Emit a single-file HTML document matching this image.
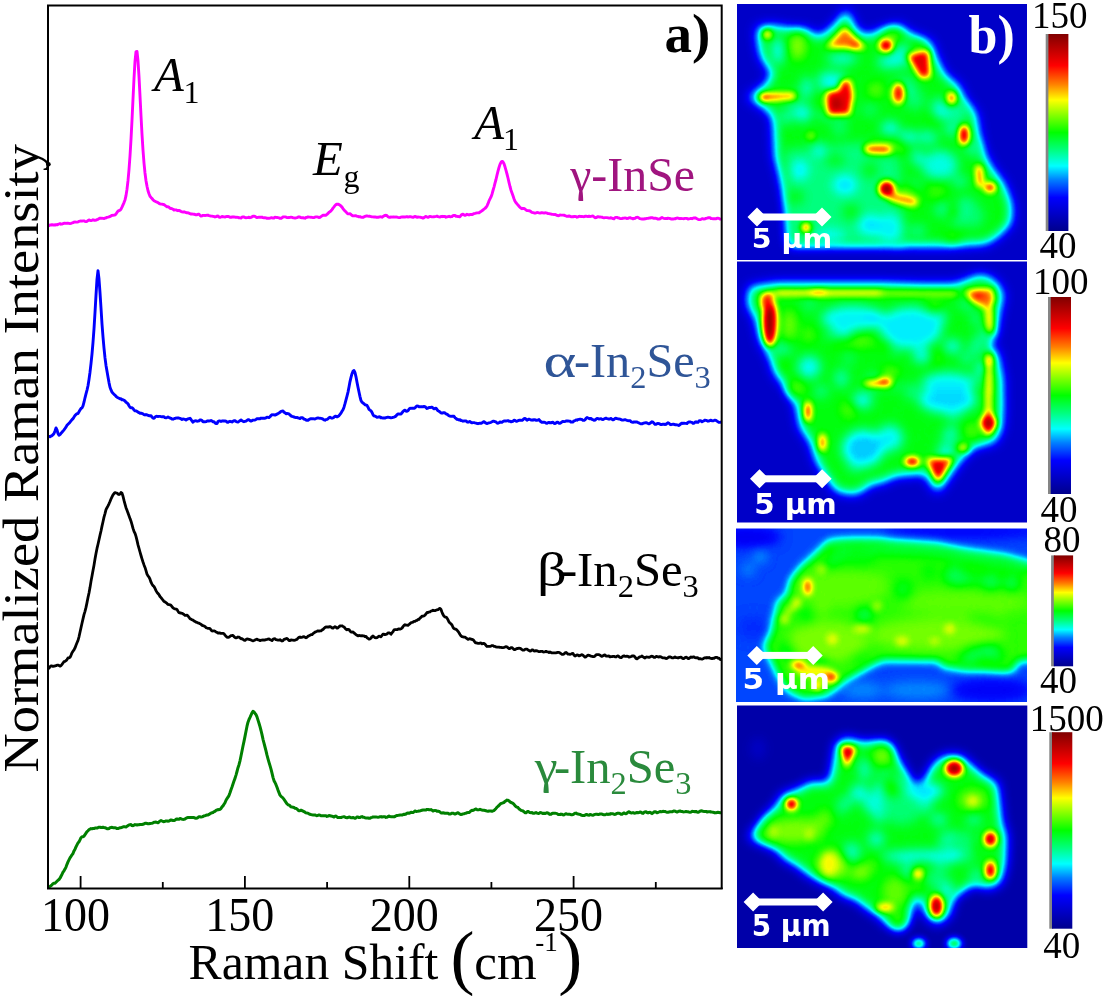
<!DOCTYPE html>
<html><head><meta charset="utf-8"><title>Raman</title>
<style>html,body{margin:0;padding:0;background:#fff;}svg{display:block}</style>
</head><body>
<svg width="1104" height="996" viewBox="0 0 1104 996">
<rect width="1104" height="996" fill="#fff"/>
<defs>
<filter id="bl0a" filterUnits="userSpaceOnUse" x="700" y="-36" width="370" height="336" color-interpolation-filters="sRGB"><feGaussianBlur stdDeviation="6.0"/></filter>
<filter id="bl0b" filterUnits="userSpaceOnUse" x="700" y="-36" width="370" height="336" color-interpolation-filters="sRGB"><feGaussianBlur stdDeviation="5.5"/></filter>
<filter id="bl0c" filterUnits="userSpaceOnUse" x="700" y="-36" width="370" height="336" color-interpolation-filters="sRGB"><feGaussianBlur stdDeviation="3.4"/></filter>
<filter id="jet0" filterUnits="userSpaceOnUse" x="700" y="-36" width="370" height="336" color-interpolation-filters="sRGB"><feGaussianBlur stdDeviation="0.8"/><feComponentTransfer><feFuncR type="table" tableValues="0.000 0.000 0.000 0.000 0.000 0.000 0.000 0.000 0.000 0.000 0.000 0.000 0.000 0.000 0.000 0.000 0.000 0.000 0.000 0.000 0.000 0.000 0.000 0.000 0.000 0.000 0.118 0.236 0.354 0.472 0.595 0.720 0.844 0.969 1.000 1.000 1.000 1.000 1.000 1.000 1.000 1.000 1.000 0.938 0.875 0.813 0.751 0.689 0.626 0.564 0.502"/><feFuncG type="table" tableValues="0.000 0.000 0.000 0.000 0.000 0.000 0.000 0.000 0.000 0.056 0.167 0.279 0.390 0.502 0.644 0.787 0.929 1.000 1.000 1.000 1.000 1.000 1.000 1.000 1.000 1.000 1.000 1.000 1.000 1.000 1.000 1.000 1.000 1.000 0.907 0.782 0.658 0.533 0.423 0.317 0.211 0.106 0.000 0.000 0.000 0.000 0.000 0.000 0.000 0.000 0.000"/><feFuncB type="table" tableValues="0.549 0.602 0.655 0.708 0.761 0.814 0.867 0.920 0.973 1.000 1.000 1.000 1.000 1.000 1.000 1.000 1.000 0.938 0.813 0.689 0.564 0.446 0.335 0.223 0.112 0.000 0.000 0.000 0.000 0.000 0.000 0.000 0.000 0.000 0.000 0.000 0.000 0.000 0.000 0.000 0.000 0.000 0.000 0.000 0.000 0.000 0.000 0.000 0.000 0.000 0.000"/></feComponentTransfer></filter>
<clipPath id="hc0"><rect x="737" y="4" width="290" height="256"/></clipPath>
<filter id="bl1a" filterUnits="userSpaceOnUse" x="700" y="221.5" width="370" height="341.0" color-interpolation-filters="sRGB"><feGaussianBlur stdDeviation="6.0"/></filter>
<filter id="bl1b" filterUnits="userSpaceOnUse" x="700" y="221.5" width="370" height="341.0" color-interpolation-filters="sRGB"><feGaussianBlur stdDeviation="5.5"/></filter>
<filter id="bl1c" filterUnits="userSpaceOnUse" x="700" y="221.5" width="370" height="341.0" color-interpolation-filters="sRGB"><feGaussianBlur stdDeviation="3.4"/></filter>
<filter id="jet1" filterUnits="userSpaceOnUse" x="700" y="221.5" width="370" height="341.0" color-interpolation-filters="sRGB"><feGaussianBlur stdDeviation="0.8"/><feComponentTransfer><feFuncR type="table" tableValues="0.000 0.000 0.000 0.000 0.000 0.000 0.000 0.000 0.000 0.000 0.000 0.000 0.000 0.000 0.000 0.000 0.000 0.000 0.000 0.000 0.000 0.000 0.000 0.000 0.000 0.000 0.118 0.236 0.354 0.472 0.595 0.720 0.844 0.969 1.000 1.000 1.000 1.000 1.000 1.000 1.000 1.000 1.000 0.938 0.875 0.813 0.751 0.689 0.626 0.564 0.502"/><feFuncG type="table" tableValues="0.000 0.000 0.000 0.000 0.000 0.000 0.000 0.000 0.000 0.056 0.167 0.279 0.390 0.502 0.644 0.787 0.929 1.000 1.000 1.000 1.000 1.000 1.000 1.000 1.000 1.000 1.000 1.000 1.000 1.000 1.000 1.000 1.000 1.000 0.907 0.782 0.658 0.533 0.423 0.317 0.211 0.106 0.000 0.000 0.000 0.000 0.000 0.000 0.000 0.000 0.000"/><feFuncB type="table" tableValues="0.549 0.602 0.655 0.708 0.761 0.814 0.867 0.920 0.973 1.000 1.000 1.000 1.000 1.000 1.000 1.000 1.000 0.938 0.813 0.689 0.564 0.446 0.335 0.223 0.112 0.000 0.000 0.000 0.000 0.000 0.000 0.000 0.000 0.000 0.000 0.000 0.000 0.000 0.000 0.000 0.000 0.000 0.000 0.000 0.000 0.000 0.000 0.000 0.000 0.000 0.000"/></feComponentTransfer></filter>
<clipPath id="hc1"><rect x="737" y="261.5" width="290" height="261.0"/></clipPath>
<filter id="bl2a" filterUnits="userSpaceOnUse" x="700" y="488.5" width="370" height="253.5" color-interpolation-filters="sRGB"><feGaussianBlur stdDeviation="4.2"/></filter>
<filter id="bl2b" filterUnits="userSpaceOnUse" x="700" y="488.5" width="370" height="253.5" color-interpolation-filters="sRGB"><feGaussianBlur stdDeviation="6"/></filter>
<filter id="bl2c" filterUnits="userSpaceOnUse" x="700" y="488.5" width="370" height="253.5" color-interpolation-filters="sRGB"><feGaussianBlur stdDeviation="3.0"/></filter>
<filter id="jet2" filterUnits="userSpaceOnUse" x="700" y="488.5" width="370" height="253.5" color-interpolation-filters="sRGB"><feGaussianBlur stdDeviation="0.8"/><feComponentTransfer><feFuncR type="table" tableValues="0.000 0.000 0.000 0.000 0.000 0.000 0.000 0.000 0.000 0.000 0.000 0.000 0.000 0.000 0.000 0.000 0.000 0.000 0.000 0.000 0.000 0.000 0.000 0.000 0.000 0.000 0.118 0.236 0.354 0.472 0.595 0.720 0.844 0.969 1.000 1.000 1.000 1.000 1.000 1.000 1.000 1.000 1.000 0.938 0.875 0.813 0.751 0.689 0.626 0.564 0.502"/><feFuncG type="table" tableValues="0.000 0.000 0.000 0.000 0.000 0.000 0.000 0.000 0.000 0.056 0.167 0.279 0.390 0.502 0.644 0.787 0.929 1.000 1.000 1.000 1.000 1.000 1.000 1.000 1.000 1.000 1.000 1.000 1.000 1.000 1.000 1.000 1.000 1.000 0.907 0.782 0.658 0.533 0.423 0.317 0.211 0.106 0.000 0.000 0.000 0.000 0.000 0.000 0.000 0.000 0.000"/><feFuncB type="table" tableValues="0.549 0.602 0.655 0.708 0.761 0.814 0.867 0.920 0.973 1.000 1.000 1.000 1.000 1.000 1.000 1.000 1.000 0.938 0.813 0.689 0.564 0.446 0.335 0.223 0.112 0.000 0.000 0.000 0.000 0.000 0.000 0.000 0.000 0.000 0.000 0.000 0.000 0.000 0.000 0.000 0.000 0.000 0.000 0.000 0.000 0.000 0.000 0.000 0.000 0.000 0.000"/></feComponentTransfer></filter>
<clipPath id="hc2"><rect x="736" y="528.5" width="291" height="173.5"/></clipPath>
<filter id="bl3a" filterUnits="userSpaceOnUse" x="700" y="665.5" width="370" height="322.5" color-interpolation-filters="sRGB"><feGaussianBlur stdDeviation="6.0"/></filter>
<filter id="bl3b" filterUnits="userSpaceOnUse" x="700" y="665.5" width="370" height="322.5" color-interpolation-filters="sRGB"><feGaussianBlur stdDeviation="5.5"/></filter>
<filter id="bl3c" filterUnits="userSpaceOnUse" x="700" y="665.5" width="370" height="322.5" color-interpolation-filters="sRGB"><feGaussianBlur stdDeviation="3.4"/></filter>
<filter id="jet3" filterUnits="userSpaceOnUse" x="700" y="665.5" width="370" height="322.5" color-interpolation-filters="sRGB"><feGaussianBlur stdDeviation="0.8"/><feComponentTransfer><feFuncR type="table" tableValues="0.000 0.000 0.000 0.000 0.000 0.000 0.000 0.000 0.000 0.000 0.000 0.000 0.000 0.000 0.000 0.000 0.000 0.000 0.000 0.000 0.000 0.000 0.000 0.000 0.000 0.000 0.118 0.236 0.354 0.472 0.595 0.720 0.844 0.969 1.000 1.000 1.000 1.000 1.000 1.000 1.000 1.000 1.000 0.938 0.875 0.813 0.751 0.689 0.626 0.564 0.502"/><feFuncG type="table" tableValues="0.000 0.000 0.000 0.000 0.000 0.000 0.000 0.000 0.000 0.056 0.167 0.279 0.390 0.502 0.644 0.787 0.929 1.000 1.000 1.000 1.000 1.000 1.000 1.000 1.000 1.000 1.000 1.000 1.000 1.000 1.000 1.000 1.000 1.000 0.907 0.782 0.658 0.533 0.423 0.317 0.211 0.106 0.000 0.000 0.000 0.000 0.000 0.000 0.000 0.000 0.000"/><feFuncB type="table" tableValues="0.549 0.602 0.655 0.708 0.761 0.814 0.867 0.920 0.973 1.000 1.000 1.000 1.000 1.000 1.000 1.000 1.000 0.938 0.813 0.689 0.564 0.446 0.335 0.223 0.112 0.000 0.000 0.000 0.000 0.000 0.000 0.000 0.000 0.000 0.000 0.000 0.000 0.000 0.000 0.000 0.000 0.000 0.000 0.000 0.000 0.000 0.000 0.000 0.000 0.000 0.000"/></feComponentTransfer></filter>
<clipPath id="hc3"><rect x="737" y="705.5" width="290.29999999999995" height="242.5"/></clipPath>
<linearGradient id="cb" x1="0" y1="0" x2="0" y2="1"><stop offset="0" stop-color="#800000"/><stop offset="0.16" stop-color="#ff0000"/><stop offset="0.255" stop-color="#ff8000"/><stop offset="0.335" stop-color="#ffff00"/><stop offset="0.415" stop-color="#80ff00"/><stop offset="0.5" stop-color="#00ff00"/><stop offset="0.59" stop-color="#00ff80"/><stop offset="0.67" stop-color="#00ffff"/><stop offset="0.74" stop-color="#0080ff"/><stop offset="0.83" stop-color="#0000ff"/><stop offset="1" stop-color="#00008c"/></linearGradient>
</defs>
<g clip-path="url(#hc0)"><g filter="url(#jet0)">
<g filter="url(#bl0a)">
<rect x="707" y="-26" width="350" height="316" fill="#171717"/>
<polygon points="756.7,27.6 769.8,25.0 789.5,28.3 807.9,29.6 818.4,37.5 831.6,27.6 842.0,15.8 846.0,8.0 851.3,18.4 856.5,30.3 867.0,35.5 882.0,29.6 899.0,24.4 908.3,32.2 930.6,41.4 937.2,59.2 945.0,75.0 958.2,84.8 966.0,101.2 975.9,113.0 979.2,134.0 983.1,150.7 991.0,166.5 1004.0,183.5 1012.0,204.5 1011.4,223.0 1000.2,235.0 987.0,244.0 947.7,246.6 912.2,246.6 882.0,244.0 789.5,244.0 788.2,223.0 787.6,209.8 785.0,194.0 780.3,175.7 775.0,157.3 773.8,131.0 772.5,115.6 763.3,107.8 754.0,101.2 747.0,97.2 755.4,92.0 767.2,82.8 772.5,72.3 765.9,65.7 760.6,56.5 758.0,43.4" fill="#7d7d7d"/>
</g>
<g filter="url(#bl0b)">
<ellipse cx="785.6" cy="116.5" rx="5.9" ry="7.0" fill="#545454"/>
<ellipse cx="839.7" cy="128.9" rx="7.7" ry="5.4" fill="#636363"/>
<ellipse cx="835.9" cy="81.8" rx="9.9" ry="9.8" fill="#545454"/>
<ellipse cx="845.1" cy="105.8" rx="6.1" ry="9.8" fill="#545454"/>
<ellipse cx="894.2" cy="223.0" rx="6.9" ry="9.3" fill="#545454"/>
<ellipse cx="916.2" cy="51.1" rx="7.0" ry="8.9" fill="#8a8a8a"/>
<ellipse cx="897.0" cy="54.0" rx="5.1" ry="8.3" fill="#545454"/>
<ellipse cx="912.3" cy="188.6" rx="8.0" ry="8.6" fill="#636363"/>
<ellipse cx="952.4" cy="129.0" rx="8.4" ry="6.7" fill="#5c5c5c"/>
<ellipse cx="927.7" cy="137.4" rx="10.0" ry="7.0" fill="#5c5c5c"/>
<ellipse cx="826.5" cy="111.7" rx="9.2" ry="9.5" fill="#696969"/>
<ellipse cx="936.4" cy="191.0" rx="9.0" ry="9.5" fill="#8a8a8a"/>
<ellipse cx="902.1" cy="86.0" rx="8.8" ry="8.5" fill="#636363"/>
<ellipse cx="904.8" cy="60.3" rx="7.6" ry="6.1" fill="#5c5c5c"/>
<ellipse cx="960.1" cy="181.5" rx="6.7" ry="5.1" fill="#5c5c5c"/>
<ellipse cx="777.2" cy="54.0" rx="5.6" ry="8.0" fill="#8a8a8a"/>
<ellipse cx="917.5" cy="231.0" rx="8.5" ry="5.8" fill="#636363"/>
<ellipse cx="958.7" cy="216.3" rx="10.0" ry="9.7" fill="#636363"/>
<ellipse cx="813.7" cy="172.0" rx="7.0" ry="7.7" fill="#8f8f8f"/>
<ellipse cx="872.6" cy="90.0" rx="7.6" ry="8.0" fill="#6e6e6e"/>
<ellipse cx="966.0" cy="205.6" rx="9.7" ry="8.0" fill="#636363"/>
<ellipse cx="816.0" cy="177.6" rx="6.1" ry="5.2" fill="#696969"/>
<ellipse cx="825.0" cy="104.1" rx="5.4" ry="6.5" fill="#8f8f8f"/>
<ellipse cx="917.3" cy="157.4" rx="5.4" ry="7.9" fill="#545454"/>
<ellipse cx="832.9" cy="220.6" rx="8.6" ry="5.9" fill="#636363"/>
<ellipse cx="910.7" cy="92.1" rx="7.8" ry="5.8" fill="#545454"/>
<ellipse cx="931.7" cy="170.8" rx="8.5" ry="7.5" fill="#636363"/>
<ellipse cx="793.2" cy="99.2" rx="6.0" ry="9.5" fill="#6e6e6e"/>
<ellipse cx="906.3" cy="145.6" rx="5.4" ry="7.3" fill="#5c5c5c"/>
<ellipse cx="944.7" cy="112.4" rx="7.9" ry="5.6" fill="#545454"/>
<ellipse cx="826.7" cy="214.0" rx="8.1" ry="5.2" fill="#8a8a8a"/>
<ellipse cx="960.0" cy="110.6" rx="9.3" ry="5.4" fill="#5c5c5c"/>
<ellipse cx="901.8" cy="48.6" rx="8.7" ry="6.9" fill="#5c5c5c"/>
<ellipse cx="967.9" cy="209.0" rx="8.4" ry="9.4" fill="#636363"/>
<ellipse cx="872.1" cy="207.1" rx="8.7" ry="8.9" fill="#696969"/>
<ellipse cx="892.2" cy="37.8" rx="9.4" ry="8.7" fill="#8f8f8f"/>
<ellipse cx="839.8" cy="121.9" rx="5.2" ry="9.5" fill="#6e6e6e"/>
<ellipse cx="972.9" cy="148.3" rx="8.0" ry="7.6" fill="#636363"/>
<ellipse cx="934.5" cy="118.5" rx="5.1" ry="6.1" fill="#8f8f8f"/>
<ellipse cx="826.5" cy="81.1" rx="8.5" ry="9.7" fill="#545454"/>
<ellipse cx="838.0" cy="190.8" rx="5.8" ry="6.0" fill="#8a8a8a"/>
<ellipse cx="907.0" cy="83.0" rx="8.3" ry="7.2" fill="#696969"/>
<ellipse cx="943.8" cy="209.5" rx="9.2" ry="7.2" fill="#636363"/>
<ellipse cx="788.1" cy="112.0" rx="6.3" ry="6.1" fill="#696969"/>
<ellipse cx="824.9" cy="223.2" rx="6.3" ry="5.1" fill="#6e6e6e"/>
<ellipse cx="817.5" cy="212.4" rx="5.3" ry="7.1" fill="#696969"/>
<ellipse cx="955.7" cy="120.7" rx="8.9" ry="7.6" fill="#696969"/>
<ellipse cx="901.1" cy="145.3" rx="9.2" ry="7.7" fill="#8f8f8f"/>
<polygon points="784.0,150.0 880.0,140.0 900.0,160.0 905.0,246.0 790.0,246.0 786.0,200.0" fill="#696969"/>
<ellipse cx="940.0" cy="165.0" rx="18.0" ry="15.0" fill="#595959"/>
<ellipse cx="908.0" cy="137.0" rx="10.0" ry="6.0" fill="#545454"/>
<ellipse cx="890.0" cy="228.0" rx="13.0" ry="14.0" fill="#545454"/>
<ellipse cx="974.0" cy="216.0" rx="10.0" ry="12.0" fill="#6b6b6b"/>
<ellipse cx="819.0" cy="149.4" rx="6.0" ry="6.0" fill="#4d4d4d"/>
<ellipse cx="800.0" cy="170.0" rx="8.0" ry="10.0" fill="#4f4f4f"/>
<ellipse cx="845.0" cy="185.0" rx="12.0" ry="10.0" fill="#4f4f4f"/>
<ellipse cx="870.0" cy="225.0" rx="12.0" ry="10.0" fill="#4f4f4f"/>
<ellipse cx="830.0" cy="235.0" rx="15.0" ry="6.0" fill="#545454"/>
<ellipse cx="796.0" cy="197.0" rx="8.0" ry="8.0" fill="#7d7d7d"/>
<ellipse cx="851.0" cy="212.0" rx="9.0" ry="8.0" fill="#7d7d7d"/>
<ellipse cx="805.0" cy="135.0" rx="8.0" ry="6.0" fill="#7d7d7d"/>
<ellipse cx="835.0" cy="160.0" rx="10.0" ry="6.0" fill="#7d7d7d"/>
<ellipse cx="870.0" cy="170.0" rx="8.0" ry="8.0" fill="#7d7d7d"/>
<ellipse cx="777.7" cy="51.0" rx="5.5" ry="14.0" fill="#4f4f4f"/>
<ellipse cx="842.0" cy="59.0" rx="15.0" ry="5.0" fill="#545454"/>
<ellipse cx="806.6" cy="88.0" rx="5.0" ry="11.0" fill="#545454"/>
<ellipse cx="802.7" cy="113.0" rx="9.0" ry="9.0" fill="#545454"/>
<ellipse cx="890.0" cy="62.0" rx="13.0" ry="6.0" fill="#545454"/>
<ellipse cx="938.5" cy="109.0" rx="6.0" ry="11.0" fill="#545454"/>
<ellipse cx="890.0" cy="128.0" rx="9.0" ry="7.0" fill="#545454"/>
<ellipse cx="915.0" cy="100.0" rx="10.0" ry="10.0" fill="#6b6b6b"/>
<ellipse cx="870.0" cy="110.0" rx="8.0" ry="6.0" fill="#6b6b6b"/>
<ellipse cx="797.5" cy="46.0" rx="8.0" ry="14.0" fill="#989898"/>
<ellipse cx="875.0" cy="90.0" rx="8.0" ry="7.0" fill="#959595"/>
<ellipse cx="953.0" cy="212.0" rx="4.0" ry="8.0" fill="#959595"/>
<ellipse cx="953.0" cy="238.0" rx="8.0" ry="3.0" fill="#959595"/>
<ellipse cx="905.0" cy="195.0" rx="14.0" ry="10.0" fill="#909090"/>
<ellipse cx="880.0" cy="148.0" rx="14.0" ry="6.0" fill="#959595"/>
</g>
<g filter="url(#bl0c)">
<ellipse cx="767.2" cy="34.2" rx="4.0" ry="4.0" fill="#cccccc"/>
<polygon points="844.7,27.0 826.0,47.5 866.0,48.5" fill="#c3c3c3"/>
<ellipse cx="856.0" cy="46.0" rx="6.0" ry="3.0" fill="#e0e0e0"/>
<line x1="763.0" y1="97.2" x2="776.0" y2="96.8" stroke="#f2f2f2" stroke-width="6.5" stroke-linecap="round"/>
<line x1="770.0" y1="97.0" x2="793.0" y2="96.0" stroke="#d1d1d1" stroke-width="6.0" stroke-linecap="round"/>
<polygon points="826.0,92.3 839.4,89.7 841.0,81.0 850.0,79.5 853.0,96.0 850.0,115.0 827.5,115.0" fill="#dedede"/>
<ellipse cx="836.0" cy="104.0" rx="5.0" ry="6.0" fill="#f2f2f2"/>
<ellipse cx="886.0" cy="45.4" rx="6.5" ry="6.0" fill="#e5e5e5"/>
<ellipse cx="886.0" cy="45.4" rx="3.0" ry="3.0" fill="#ffffff"/>
<polygon points="907.0,55.0 928.5,50.5 930.0,77.0 921.0,78.0" fill="#e0e0e0"/>
<ellipse cx="898.4" cy="93.3" rx="6.0" ry="10.5" fill="#dbdbdb"/>
<ellipse cx="951.6" cy="97.9" rx="4.0" ry="6.0" fill="#d9d9d9"/>
<ellipse cx="964.0" cy="135.0" rx="4.5" ry="10.0" fill="#f2f2f2"/>
<line x1="868.0" y1="149.0" x2="888.0" y2="149.5" stroke="#dbdbdb" stroke-width="6.5" stroke-linecap="round"/>
<ellipse cx="886.6" cy="188.8" rx="8.0" ry="8.0" fill="#ebebeb"/>
<ellipse cx="886.6" cy="188.8" rx="4.5" ry="4.5" fill="#ffffff"/>
<line x1="892.0" y1="197.0" x2="914.0" y2="202.0" stroke="#c8c8c8" stroke-width="7.0" stroke-linecap="round"/>
<line x1="979.0" y1="168.0" x2="980.0" y2="184.0" stroke="#dbdbdb" stroke-width="5.5" stroke-linecap="round"/>
<ellipse cx="990.0" cy="187.5" rx="6.0" ry="4.5" fill="#e0e0e0"/>
<ellipse cx="806.0" cy="227.5" rx="4.0" ry="4.0" fill="#f2f2f2"/>
<ellipse cx="811.0" cy="136.0" rx="3.5" ry="3.5" fill="#a4a4a4"/>
</g>
</g></g>
<g clip-path="url(#hc1)"><g filter="url(#jet1)">
<g filter="url(#bl1a)">
<rect x="707" y="231.5" width="350" height="321.0" fill="#171717"/>
<polygon points="748.8,287.0 776.4,283.0 828.9,283.0 882.0,283.0 921.4,284.3 955.5,284.3 968.7,279.1 979.2,274.5 991.0,277.8 998.9,285.0 1003.5,294.8 998.9,314.5 995.6,335.5 987.1,344.1 997.6,352.6 1002.8,380.2 1002.6,392.0 1003.1,405.1 1001.8,428.8 995.2,442.2 973.9,447.4 960.8,460.6 947.7,478.9 937.8,493.1 930.3,483.9 926.4,473.7 895.1,476.3 882.0,482.9 869.7,484.2 865.7,489.5 855.2,494.7 836.8,492.1 828.9,481.6 815.8,460.6 810.5,442.2 800.0,427.7 796.1,405.4 789.5,392.0 786.9,388.3 775.1,373.9 769.8,356.8 760.6,341.1 755.4,317.4 747.5,305.6" fill="#7d7d7d"/>
</g>
<g filter="url(#bl1b)">
<ellipse cx="896.3" cy="317.4" rx="9.6" ry="7.3" fill="#8a8a8a"/>
<ellipse cx="917.3" cy="321.7" rx="9.6" ry="7.4" fill="#696969"/>
<ellipse cx="947.9" cy="346.9" rx="5.4" ry="6.0" fill="#6e6e6e"/>
<ellipse cx="841.3" cy="378.4" rx="6.2" ry="9.0" fill="#5c5c5c"/>
<ellipse cx="867.2" cy="321.1" rx="9.1" ry="8.4" fill="#8f8f8f"/>
<ellipse cx="848.5" cy="358.0" rx="5.4" ry="8.7" fill="#6e6e6e"/>
<ellipse cx="854.6" cy="466.5" rx="7.7" ry="6.7" fill="#696969"/>
<ellipse cx="933.9" cy="354.4" rx="7.8" ry="5.8" fill="#8f8f8f"/>
<ellipse cx="963.5" cy="386.9" rx="9.3" ry="8.5" fill="#545454"/>
<ellipse cx="945.8" cy="452.7" rx="8.2" ry="8.4" fill="#545454"/>
<ellipse cx="984.1" cy="318.7" rx="7.2" ry="9.4" fill="#8a8a8a"/>
<ellipse cx="973.9" cy="348.8" rx="5.3" ry="7.8" fill="#636363"/>
<ellipse cx="831.4" cy="336.2" rx="6.3" ry="6.0" fill="#696969"/>
<ellipse cx="978.2" cy="344.8" rx="6.4" ry="9.9" fill="#636363"/>
<ellipse cx="848.7" cy="409.5" rx="7.8" ry="9.0" fill="#8f8f8f"/>
<ellipse cx="808.6" cy="334.7" rx="6.0" ry="8.0" fill="#8f8f8f"/>
<ellipse cx="781.7" cy="350.6" rx="9.5" ry="7.0" fill="#5c5c5c"/>
<ellipse cx="764.5" cy="307.1" rx="5.7" ry="5.6" fill="#636363"/>
<ellipse cx="958.2" cy="387.5" rx="7.7" ry="5.6" fill="#8f8f8f"/>
<ellipse cx="887.2" cy="344.6" rx="6.5" ry="6.3" fill="#8f8f8f"/>
<ellipse cx="973.3" cy="319.3" rx="8.8" ry="6.2" fill="#5c5c5c"/>
<ellipse cx="895.5" cy="349.9" rx="7.2" ry="5.3" fill="#6e6e6e"/>
<ellipse cx="889.0" cy="319.5" rx="8.9" ry="7.3" fill="#636363"/>
<ellipse cx="863.2" cy="334.8" rx="9.8" ry="7.4" fill="#8a8a8a"/>
<ellipse cx="953.6" cy="414.5" rx="8.5" ry="6.3" fill="#636363"/>
<ellipse cx="910.9" cy="426.7" rx="9.0" ry="6.7" fill="#8a8a8a"/>
<ellipse cx="934.4" cy="306.8" rx="9.9" ry="5.5" fill="#8f8f8f"/>
<ellipse cx="912.4" cy="391.6" rx="8.7" ry="8.3" fill="#696969"/>
<ellipse cx="947.7" cy="437.3" rx="7.2" ry="5.2" fill="#696969"/>
<ellipse cx="796.0" cy="388.2" rx="9.0" ry="8.4" fill="#8f8f8f"/>
<ellipse cx="972.8" cy="297.6" rx="9.7" ry="6.7" fill="#8a8a8a"/>
<ellipse cx="895.2" cy="380.4" rx="5.5" ry="9.9" fill="#696969"/>
<ellipse cx="862.3" cy="400.2" rx="10.0" ry="8.0" fill="#545454"/>
<ellipse cx="821.3" cy="391.4" rx="6.5" ry="6.2" fill="#636363"/>
<ellipse cx="932.6" cy="360.0" rx="6.9" ry="9.0" fill="#8a8a8a"/>
<ellipse cx="972.2" cy="430.5" rx="9.7" ry="6.7" fill="#8f8f8f"/>
<ellipse cx="977.3" cy="377.9" rx="7.0" ry="8.0" fill="#696969"/>
<ellipse cx="874.3" cy="381.7" rx="9.4" ry="8.8" fill="#696969"/>
<ellipse cx="941.1" cy="316.5" rx="5.2" ry="6.6" fill="#545454"/>
<ellipse cx="843.5" cy="330.5" rx="8.3" ry="8.2" fill="#545454"/>
<ellipse cx="922.2" cy="355.8" rx="9.5" ry="7.3" fill="#545454"/>
<ellipse cx="986.5" cy="332.6" rx="7.3" ry="6.5" fill="#636363"/>
<ellipse cx="965.6" cy="359.1" rx="5.3" ry="5.0" fill="#5c5c5c"/>
<ellipse cx="951.1" cy="434.6" rx="6.8" ry="9.1" fill="#5c5c5c"/>
<ellipse cx="966.0" cy="304.9" rx="7.6" ry="7.4" fill="#696969"/>
<ellipse cx="982.9" cy="367.1" rx="7.6" ry="5.3" fill="#545454"/>
<ellipse cx="940.0" cy="382.4" rx="8.1" ry="8.1" fill="#6e6e6e"/>
<ellipse cx="809.6" cy="304.5" rx="8.7" ry="6.9" fill="#6e6e6e"/>
<ellipse cx="852.6" cy="318.5" rx="31.5" ry="13.1" fill="#545454"/>
<ellipse cx="874.9" cy="317.2" rx="7.9" ry="5.3" fill="#4a4a4a"/>
<ellipse cx="910.9" cy="327.7" rx="31.5" ry="21.0" fill="#525252"/>
<ellipse cx="952.9" cy="346.1" rx="7.9" ry="6.6" fill="#545454"/>
<ellipse cx="809.2" cy="367.1" rx="11.2" ry="11.2" fill="#545454"/>
<ellipse cx="947.7" cy="382.8" rx="26.3" ry="10.5" fill="#545454"/>
<ellipse cx="947.7" cy="399.9" rx="28.9" ry="13.1" fill="#4f4f4f"/>
<ellipse cx="889.9" cy="438.0" rx="13.1" ry="13.1" fill="#545454"/>
<ellipse cx="863.1" cy="448.5" rx="21.0" ry="18.4" fill="#4d4d4d"/>
<ellipse cx="960.8" cy="321.1" rx="12.5" ry="11.8" fill="#7d7d7d"/>
<ellipse cx="908.3" cy="301.4" rx="10.5" ry="5.3" fill="#7d7d7d"/>
<ellipse cx="888.6" cy="364.4" rx="10.5" ry="7.9" fill="#7d7d7d"/>
<ellipse cx="925.3" cy="368.4" rx="10.5" ry="5.3" fill="#7d7d7d"/>
<ellipse cx="912.2" cy="422.2" rx="10.5" ry="13.1" fill="#7d7d7d"/>
<ellipse cx="789.5" cy="325.0" rx="6.6" ry="15.8" fill="#959595"/>
<ellipse cx="852.6" cy="343.4" rx="25.0" ry="2.9" fill="#959595"/>
<line x1="783.0" y1="351.3" x2="783.2" y2="371.0" stroke="#959595" stroke-width="2.9" stroke-linecap="round"/>
<ellipse cx="889.9" cy="374.9" rx="9.2" ry="6.6" fill="#959595"/>
</g>
<g filter="url(#bl1c)">
<ellipse cx="769.8" cy="321.1" rx="6.8" ry="25.0" fill="#ebebeb"/>
<ellipse cx="769.8" cy="321.1" rx="3.2" ry="17.1" fill="#ffffff"/>
<polygon points="761.3,294.8 771.8,291.6 775.1,306.7 760.6,308.0" fill="#d6d6d6"/>
<line x1="776.4" y1="292.9" x2="882.0" y2="292.9" stroke="#c4c4c4" stroke-width="4.7" stroke-linecap="round"/>
<ellipse cx="818.4" cy="292.5" rx="9.2" ry="2.4" fill="#e0e0e0"/>
<line x1="882.0" y1="292.9" x2="955.5" y2="293.5" stroke="#adadad" stroke-width="3.9" stroke-linecap="round"/>
<polygon points="964.7,291.2 992.3,288.5 994.3,302.1 983.1,307.3 972.0,301.1" fill="#c4c4c4"/>
<ellipse cx="977.9" cy="294.2" rx="5.9" ry="3.7" fill="#dbdbdb"/>
<line x1="988.6" y1="305.3" x2="990.0" y2="330.3" stroke="#cccccc" stroke-width="4.7" stroke-linecap="round"/>
<line x1="989.0" y1="356.6" x2="989.0" y2="392.0" stroke="#c4c4c4" stroke-width="5.0" stroke-linecap="round"/>
<ellipse cx="989.0" cy="360.5" rx="2.9" ry="5.3" fill="#e0e0e0"/>
<line x1="988.6" y1="392.0" x2="988.6" y2="411.7" stroke="#c4c4c4" stroke-width="4.7" stroke-linecap="round"/>
<polygon points="988.4,409.7 996.5,422.9 988.4,436.0 980.2,422.9" fill="#ebebeb"/>
<ellipse cx="988.4" cy="422.9" rx="2.9" ry="5.3" fill="#ffffff"/>
<ellipse cx="912.2" cy="461.6" rx="7.6" ry="4.2" fill="#f0f0f0"/>
<polygon points="926.0,459.0 953.6,457.7 937.8,483.3" fill="#d6d6d6"/>
<ellipse cx="937.8" cy="469.5" rx="2.9" ry="7.2" fill="#f0f0f0"/>
<ellipse cx="963.4" cy="447.8" rx="5.3" ry="2.6" fill="#cccccc"/>
<ellipse cx="874.9" cy="383.5" rx="11.2" ry="2.6" fill="#e6e6e6"/>
<ellipse cx="884.6" cy="382.2" rx="7.2" ry="3.7" fill="#e6e6e6"/>
<ellipse cx="807.9" cy="411.7" rx="2.6" ry="10.5" fill="#fafafa"/>
<ellipse cx="822.4" cy="442.6" rx="3.2" ry="9.2" fill="#d9d9d9"/>
</g>
</g></g>
<g clip-path="url(#hc2)"><g filter="url(#jet2)">
<g filter="url(#bl2a)">
<rect x="706" y="498.5" width="351" height="233.5" fill="#383838"/>
<polygon points="775.1,615.9 777.8,602.1 787.3,593.9 791.4,580.3 800.9,566.8 814.5,554.5 828.1,541.2 855.3,539.6 883.0,539.9 910.2,541.2 937.3,543.9 964.5,550.7 1005.3,556.2 1027.0,563.0 1059.6,566.8 1059.6,660.2 1027.0,660.5 1017.5,661.8 1013.4,671.3 1005.3,672.7 964.5,670.0 944.1,667.3 937.3,661.1 883.0,660.5 868.9,667.3 855.3,675.4 841.7,684.9 825.4,695.8 803.7,698.5 787.3,690.4 777.8,675.4 771.0,660.5 764.2,648.2 768.3,631.9 775.1,614.0" fill="#878787"/>
</g>
<g filter="url(#bl2b)">
<ellipse cx="808.0" cy="637.5" rx="7.8" ry="8.3" fill="#737373"/>
<ellipse cx="818.2" cy="586.1" rx="7.8" ry="5.2" fill="#787878"/>
<ellipse cx="920.8" cy="638.1" rx="9.4" ry="5.9" fill="#949494"/>
<ellipse cx="997.9" cy="609.8" rx="5.6" ry="9.1" fill="#949494"/>
<ellipse cx="968.0" cy="636.4" rx="9.5" ry="9.2" fill="#787878"/>
<ellipse cx="975.2" cy="623.1" rx="8.1" ry="8.2" fill="#787878"/>
<ellipse cx="962.2" cy="578.8" rx="9.1" ry="6.9" fill="#6e6e6e"/>
<ellipse cx="821.7" cy="607.5" rx="7.2" ry="7.0" fill="#949494"/>
<ellipse cx="825.5" cy="633.2" rx="6.5" ry="5.6" fill="#999999"/>
<ellipse cx="990.9" cy="582.0" rx="8.2" ry="7.4" fill="#666666"/>
<ellipse cx="1044.1" cy="610.6" rx="10.0" ry="7.6" fill="#999999"/>
<ellipse cx="825.5" cy="578.4" rx="8.0" ry="9.6" fill="#737373"/>
<ellipse cx="948.3" cy="624.4" rx="7.6" ry="7.0" fill="#666666"/>
<ellipse cx="877.8" cy="580.1" rx="9.4" ry="5.9" fill="#999999"/>
<ellipse cx="857.2" cy="570.0" rx="6.1" ry="7.1" fill="#737373"/>
<ellipse cx="806.5" cy="615.8" rx="5.1" ry="6.2" fill="#737373"/>
<ellipse cx="845.6" cy="558.0" rx="5.8" ry="7.1" fill="#5e5e5e"/>
<ellipse cx="858.1" cy="655.3" rx="8.7" ry="7.2" fill="#787878"/>
<ellipse cx="819.6" cy="663.9" rx="7.3" ry="9.2" fill="#5e5e5e"/>
<ellipse cx="954.0" cy="575.6" rx="9.7" ry="9.5" fill="#6e6e6e"/>
<ellipse cx="975.3" cy="646.0" rx="9.8" ry="9.6" fill="#5e5e5e"/>
<ellipse cx="845.9" cy="574.4" rx="7.1" ry="9.7" fill="#999999"/>
<ellipse cx="834.0" cy="564.8" rx="8.2" ry="7.4" fill="#6e6e6e"/>
<ellipse cx="1011.4" cy="583.1" rx="5.8" ry="5.9" fill="#5e5e5e"/>
<ellipse cx="997.0" cy="650.1" rx="9.7" ry="5.7" fill="#999999"/>
<ellipse cx="897.5" cy="635.2" rx="8.7" ry="5.4" fill="#787878"/>
<ellipse cx="989.1" cy="626.0" rx="9.6" ry="7.3" fill="#787878"/>
<ellipse cx="837.7" cy="561.6" rx="6.3" ry="9.9" fill="#6e6e6e"/>
<ellipse cx="929.1" cy="571.8" rx="5.2" ry="7.5" fill="#787878"/>
<ellipse cx="928.6" cy="634.7" rx="6.3" ry="5.5" fill="#787878"/>
<ellipse cx="969.2" cy="658.8" rx="9.8" ry="7.8" fill="#737373"/>
<ellipse cx="787.7" cy="649.9" rx="5.6" ry="9.1" fill="#6e6e6e"/>
<ellipse cx="993.7" cy="651.2" rx="9.9" ry="6.1" fill="#5e5e5e"/>
<ellipse cx="864.3" cy="614.6" rx="6.3" ry="7.2" fill="#666666"/>
<ellipse cx="746.6" cy="536.9" rx="34.0" ry="9.5" fill="#262626"/>
<ellipse cx="964.5" cy="531.4" rx="81.5" ry="6.8" fill="#292929"/>
<ellipse cx="760.2" cy="556.6" rx="4.8" ry="4.8" fill="#575757"/>
<ellipse cx="747.9" cy="569.5" rx="5.4" ry="4.8" fill="#4f4f4f"/>
<ellipse cx="991.7" cy="690.1" rx="40.8" ry="10.9" fill="#292929"/>
<ellipse cx="917.0" cy="690.1" rx="34.0" ry="8.2" fill="#454545"/>
<ellipse cx="862.1" cy="690.1" rx="20.4" ry="8.2" fill="#454545"/>
<ellipse cx="753.4" cy="627.6" rx="16.3" ry="10.9" fill="#333333"/>
<line x1="869.4" y1="547.7" x2="937.3" y2="549.8" stroke="#6e6e6e" stroke-width="9.5" stroke-linecap="round"/>
<line x1="937.3" y1="551.1" x2="1027.0" y2="566.8" stroke="#6e6e6e" stroke-width="8.2" stroke-linecap="round"/>
<line x1="834.9" y1="546.4" x2="883.0" y2="546.4" stroke="#737373" stroke-width="6.8" stroke-linecap="round"/>
<ellipse cx="841.7" cy="587.1" rx="47.6" ry="20.4" fill="#8f8f8f"/>
<ellipse cx="937.3" cy="634.4" rx="67.9" ry="16.3" fill="#939393"/>
<ellipse cx="828.1" cy="641.2" rx="40.8" ry="20.4" fill="#949494"/>
<ellipse cx="964.5" cy="602.1" rx="67.9" ry="13.6" fill="#8f8f8f"/>
<ellipse cx="855.3" cy="560.0" rx="20.4" ry="8.2" fill="#7d7d7d"/>
<ellipse cx="903.4" cy="589.9" rx="8.2" ry="10.9" fill="#787878"/>
<ellipse cx="998.5" cy="654.8" rx="5.4" ry="10.9" fill="#787878"/>
<ellipse cx="978.1" cy="580.3" rx="10.9" ry="6.8" fill="#787878"/>
</g>
<g filter="url(#bl2c)">
<ellipse cx="821.3" cy="569.5" rx="4.1" ry="4.1" fill="#a2a2a2"/>
<ellipse cx="796.9" cy="602.1" rx="4.1" ry="5.4" fill="#a4a4a4"/>
<ellipse cx="832.2" cy="639.1" rx="5.4" ry="5.4" fill="#aaaaaa"/>
<ellipse cx="862.1" cy="628.9" rx="9.5" ry="3.4" fill="#aaaaaa"/>
<ellipse cx="784.6" cy="619.4" rx="4.1" ry="4.1" fill="#aaaaaa"/>
<ellipse cx="902.0" cy="641.2" rx="6.8" ry="4.1" fill="#aaaaaa"/>
<ellipse cx="949.6" cy="628.9" rx="5.4" ry="4.8" fill="#aaaaaa"/>
<ellipse cx="934.6" cy="641.2" rx="5.4" ry="3.4" fill="#a4a4a4"/>
<ellipse cx="877.0" cy="606.2" rx="4.1" ry="4.1" fill="#a2a2a2"/>
<ellipse cx="807.7" cy="587.1" rx="3.3" ry="8.4" fill="#dbdbdb"/>
<line x1="798.2" y1="602.1" x2="787.3" y2="613.0" stroke="#b8b8b8" stroke-width="3.0" stroke-linecap="round"/>
<ellipse cx="798.2" cy="665.0" rx="7.5" ry="3.3" fill="#d9d9d9"/>
<ellipse cx="830.8" cy="677.2" rx="6.8" ry="4.8" fill="#dbdbdb"/>
<ellipse cx="817.2" cy="684.7" rx="4.1" ry="5.4" fill="#bfbfbf"/>
<ellipse cx="814.5" cy="671.1" rx="17.7" ry="6.1" fill="#adadad"/>
</g>
</g></g>
<g clip-path="url(#hc3)"><g filter="url(#jet3)">
<g filter="url(#bl3a)">
<rect x="707" y="675.5" width="350.29999999999995" height="302.5" fill="#0b0b0b"/>
<polygon points="756.7,828.0 763.3,816.9 776.4,805.1 781.7,794.6 800.0,788.1 810.5,781.5 828.9,782.8 832.9,763.1 835.5,743.4 846.0,736.8 861.8,741.8 882.0,740.5 882.0,739.2 891.2,743.1 899.1,759.2 907.0,772.3 914.8,788.1 920.1,789.4 928.0,772.3 934.5,761.8 945.0,755.0 960.8,755.0 972.6,765.5 983.1,774.7 997.6,782.5 1000.2,802.5 1002.8,828.0 1004.8,826.0 1007.0,839.1 1005.7,865.4 1000.5,884.1 987.1,889.3 973.9,884.1 963.4,891.9 954.2,897.2 949.6,915.6 937.2,925.3 925.3,915.6 919.4,896.9 915.5,896.9 910.2,918.2 900.4,930.4 882.0,922.1 882.0,918.2 868.3,910.3 855.2,899.8 842.1,895.9 835.5,889.3 822.4,882.7 809.2,876.2 796.1,865.7 783.0,859.1 776.4,849.9 763.3,844.6 748.2,837.8 756.7,826.0" fill="#7d7d7d"/>
<ellipse cx="758.0" cy="748.7" rx="6.6" ry="10.5" fill="#1a1a1a"/>
</g>
<g filter="url(#bl3b)">
<ellipse cx="934.3" cy="879.1" rx="8.4" ry="9.6" fill="#696969"/>
<ellipse cx="939.5" cy="863.5" rx="9.4" ry="9.4" fill="#6e6e6e"/>
<ellipse cx="883.7" cy="772.3" rx="9.3" ry="7.9" fill="#6e6e6e"/>
<ellipse cx="918.3" cy="886.2" rx="6.2" ry="6.8" fill="#8a8a8a"/>
<ellipse cx="898.4" cy="919.9" rx="7.5" ry="9.1" fill="#8a8a8a"/>
<ellipse cx="944.3" cy="839.1" rx="9.5" ry="7.6" fill="#545454"/>
<ellipse cx="931.5" cy="794.2" rx="9.2" ry="5.7" fill="#6e6e6e"/>
<ellipse cx="872.7" cy="804.2" rx="9.1" ry="8.5" fill="#545454"/>
<ellipse cx="771.5" cy="830.7" rx="9.9" ry="7.8" fill="#636363"/>
<ellipse cx="948.0" cy="874.0" rx="5.1" ry="7.4" fill="#5c5c5c"/>
<ellipse cx="908.9" cy="810.7" rx="7.2" ry="8.7" fill="#8f8f8f"/>
<ellipse cx="974.1" cy="842.0" rx="6.2" ry="6.1" fill="#8a8a8a"/>
<ellipse cx="772.7" cy="825.1" rx="9.6" ry="5.9" fill="#6e6e6e"/>
<ellipse cx="924.8" cy="803.7" rx="8.2" ry="8.7" fill="#5c5c5c"/>
<ellipse cx="966.9" cy="857.2" rx="8.1" ry="5.8" fill="#6e6e6e"/>
<ellipse cx="859.2" cy="792.8" rx="9.1" ry="8.0" fill="#545454"/>
<ellipse cx="985.7" cy="841.4" rx="6.3" ry="7.6" fill="#6e6e6e"/>
<ellipse cx="851.6" cy="851.8" rx="9.0" ry="9.0" fill="#5c5c5c"/>
<ellipse cx="784.7" cy="825.6" rx="9.5" ry="8.4" fill="#6e6e6e"/>
<ellipse cx="889.6" cy="905.6" rx="5.0" ry="7.4" fill="#8a8a8a"/>
<ellipse cx="810.8" cy="826.1" rx="6.9" ry="5.6" fill="#8f8f8f"/>
<ellipse cx="923.5" cy="862.4" rx="8.9" ry="7.8" fill="#8a8a8a"/>
<ellipse cx="990.0" cy="839.3" rx="9.0" ry="5.2" fill="#545454"/>
<ellipse cx="976.3" cy="845.6" rx="6.2" ry="7.2" fill="#8f8f8f"/>
<ellipse cx="946.9" cy="890.6" rx="6.9" ry="8.9" fill="#545454"/>
<ellipse cx="825.1" cy="816.4" rx="7.9" ry="7.3" fill="#8f8f8f"/>
<ellipse cx="901.0" cy="781.6" rx="5.5" ry="6.4" fill="#5c5c5c"/>
<ellipse cx="906.8" cy="870.4" rx="5.4" ry="7.4" fill="#5c5c5c"/>
<ellipse cx="851.7" cy="874.3" rx="6.4" ry="5.1" fill="#8f8f8f"/>
<ellipse cx="952.9" cy="837.9" rx="8.0" ry="6.6" fill="#636363"/>
<ellipse cx="840.5" cy="809.4" rx="5.6" ry="5.3" fill="#696969"/>
<ellipse cx="975.9" cy="875.4" rx="5.5" ry="7.0" fill="#5c5c5c"/>
<ellipse cx="873.1" cy="865.0" rx="6.6" ry="7.2" fill="#8a8a8a"/>
<ellipse cx="890.8" cy="789.3" rx="5.7" ry="8.8" fill="#8f8f8f"/>
<ellipse cx="864.4" cy="769.7" rx="4.6" ry="11.2" fill="#545454"/>
<ellipse cx="846.0" cy="802.5" rx="6.6" ry="4.6" fill="#595959"/>
<ellipse cx="878.8" cy="802.5" rx="7.9" ry="21.0" fill="#595959"/>
<ellipse cx="924.0" cy="790.7" rx="19.7" ry="7.9" fill="#4d4d4d"/>
<ellipse cx="938.5" cy="819.6" rx="7.9" ry="3.9" fill="#4d4d4d"/>
<ellipse cx="973.9" cy="819.6" rx="6.6" ry="3.3" fill="#4d4d4d"/>
<ellipse cx="901.7" cy="809.1" rx="19.7" ry="15.8" fill="#6b6b6b"/>
<ellipse cx="928.0" cy="856.2" rx="47.3" ry="5.3" fill="#4f4f4f"/>
<ellipse cx="954.2" cy="853.6" rx="5.3" ry="4.6" fill="#474747"/>
<ellipse cx="876.2" cy="839.1" rx="7.9" ry="7.9" fill="#595959"/>
<ellipse cx="967.4" cy="845.7" rx="7.9" ry="15.8" fill="#6b6b6b"/>
<ellipse cx="901.7" cy="837.8" rx="9.2" ry="5.3" fill="#7d7d7d"/>
<ellipse cx="934.5" cy="837.8" rx="9.2" ry="5.3" fill="#7d7d7d"/>
<ellipse cx="952.9" cy="874.6" rx="7.9" ry="6.6" fill="#7d7d7d"/>
<ellipse cx="792.2" cy="833.9" rx="32.8" ry="9.2" fill="#959595"/>
<ellipse cx="831.6" cy="864.1" rx="14.4" ry="14.4" fill="#a2a2a2"/>
<ellipse cx="861.8" cy="872.0" rx="7.9" ry="7.9" fill="#9a9a9a"/>
<ellipse cx="800.0" cy="823.5" rx="32.8" ry="5.3" fill="#959595"/>
<ellipse cx="878.8" cy="756.5" rx="5.3" ry="10.5" fill="#959595"/>
<ellipse cx="885.9" cy="756.5" rx="5.3" ry="10.5" fill="#959595"/>
<ellipse cx="972.6" cy="799.9" rx="14.4" ry="10.5" fill="#959595"/>
<ellipse cx="895.1" cy="891.7" rx="13.1" ry="15.8" fill="#909090"/>
</g>
<g filter="url(#bl3c)">
<ellipse cx="918.8" cy="943.5" rx="7.2" ry="5.5" fill="#757575"/>
<ellipse cx="954.2" cy="943.5" rx="7.9" ry="5.9" fill="#7a7a7a"/>
<ellipse cx="972.6" cy="801.2" rx="5.3" ry="4.6" fill="#aaaaaa"/>
<ellipse cx="773.8" cy="831.3" rx="3.9" ry="5.3" fill="#a2a2a2"/>
<ellipse cx="809.2" cy="833.9" rx="3.9" ry="5.3" fill="#a2a2a2"/>
<ellipse cx="828.9" cy="864.1" rx="6.6" ry="10.5" fill="#aaaaaa"/>
<polygon points="840.8,745.8 855.9,747.6 846.3,768.4" fill="#e5e5e5"/>
<ellipse cx="847.6" cy="751.9" rx="2.9" ry="3.9" fill="#ffffff"/>
<ellipse cx="791.5" cy="804.1" rx="5.8" ry="5.8" fill="#ebebeb"/>
<ellipse cx="791.5" cy="804.1" rx="2.6" ry="2.6" fill="#ffffff"/>
<ellipse cx="954.2" cy="768.4" rx="8.9" ry="7.9" fill="#ebebeb"/>
<ellipse cx="954.2" cy="768.4" rx="4.6" ry="3.9" fill="#ffffff"/>
<ellipse cx="990.4" cy="839.1" rx="6.8" ry="7.9" fill="#e5e5e5"/>
<ellipse cx="990.4" cy="839.1" rx="2.6" ry="3.4" fill="#ffffff"/>
<ellipse cx="990.4" cy="870.0" rx="5.0" ry="9.2" fill="#e0e0e0"/>
<ellipse cx="990.4" cy="871.3" rx="2.1" ry="4.2" fill="#ffffff"/>
<ellipse cx="936.5" cy="906.1" rx="6.3" ry="11.2" fill="#e5e5e5"/>
<ellipse cx="936.5" cy="906.8" rx="2.9" ry="6.0" fill="#ffffff"/>
<ellipse cx="918.1" cy="873.9" rx="4.7" ry="4.7" fill="#c6c6c6"/>
<ellipse cx="884.6" cy="907.4" rx="9.2" ry="3.4" fill="#c6c6c6"/>
</g>
</g></g>
<rect x="1045.7" y="34" width="4" height="197" fill="#858585"/>
<rect x="1048.4" y="34" width="20.0" height="197" fill="url(#cb)"/>
<text x="1059.8" y="28.2" font-size="37" text-anchor="middle" font-family="'Liberation Serif', serif">150</text>
<text x="1058" y="257.8" font-size="37" text-anchor="middle" font-family="'Liberation Serif', serif">40</text>
<rect x="1048.0" y="297" width="4" height="197" fill="#858585"/>
<rect x="1050.7" y="297" width="20.299999999999955" height="197" fill="url(#cb)"/>
<text x="1060.7" y="294.3" font-size="37" text-anchor="middle" font-family="'Liberation Serif', serif">100</text>
<text x="1059" y="521.8" font-size="37" text-anchor="middle" font-family="'Liberation Serif', serif">40</text>
<rect x="1051.1" y="555.4" width="4" height="110.89999999999998" fill="#858585"/>
<rect x="1053.8" y="555.4" width="19.299999999999955" height="110.89999999999998" fill="url(#cb)"/>
<text x="1062" y="552" font-size="37" text-anchor="middle" font-family="'Liberation Serif', serif">80</text>
<text x="1058.5" y="692.7" font-size="37" text-anchor="middle" font-family="'Liberation Serif', serif">40</text>
<rect x="1049.3" y="732.2" width="4" height="196.5" fill="#858585"/>
<rect x="1052" y="732.2" width="20.299999999999955" height="196.5" fill="url(#cb)"/>
<text x="1066.8" y="730.5" font-size="37" text-anchor="middle" font-family="'Liberation Serif', serif">1500</text>
<text x="1061.8" y="957.6" font-size="37" text-anchor="middle" font-family="'Liberation Serif', serif">40</text>
<path d="M747.5,217 l9.5,-9.5 l9.5,9.5 l-9.5,9.5 z M831.5,217 l-9.5,-9.5 l-9.5,9.5 l9.5,9.5 z" fill="#fff"/>
<rect x="757.0" y="213.5" width="65.0" height="7" fill="#fff"/>
<text transform="translate(751.7,247.6) scale(1.105,1)" font-size="25.8" font-weight="bold" fill="#fff" font-family="'DejaVu Sans', 'Liberation Sans', sans-serif" xml:space="preserve">5 µm</text>
<path d="M750,478.8 l9.5,-9.5 l9.5,9.5 l-9.5,9.5 z M831.6,478.8 l-9.5,-9.5 l-9.5,9.5 l9.5,9.5 z" fill="#fff"/>
<rect x="759.5" y="475.3" width="62.60000000000002" height="7" fill="#fff"/>
<text transform="translate(754.2,513.5) scale(1.015,1)" font-size="28.8" font-weight="bold" fill="#fff" font-family="'DejaVu Sans', 'Liberation Sans', sans-serif" xml:space="preserve">5 µm</text>
<path d="M747.3,655.4 l9.5,-9.5 l9.5,9.5 l-9.5,9.5 z M822.7,655.4 l-9.5,-9.5 l-9.5,9.5 l9.5,9.5 z" fill="#fff"/>
<rect x="756.8" y="651.9" width="56.40000000000009" height="7" fill="#fff"/>
<text transform="translate(742.6,689.4) scale(1.073,1)" font-size="28.9" font-weight="bold" fill="#fff" font-family="'DejaVu Sans', 'Liberation Sans', sans-serif" xml:space="preserve">5 µm</text>
<path d="M743.6,902 l9.5,-9.5 l9.5,9.5 l-9.5,9.5 z M832.6,902 l-9.5,-9.5 l-9.5,9.5 l9.5,9.5 z" fill="#fff"/>
<rect x="753.1" y="898.5" width="70.0" height="7" fill="#fff"/>
<text transform="translate(751.7,935.7) scale(0.91,1)" font-size="30.7" font-weight="bold" fill="#fff" font-family="'DejaVu Sans', 'Liberation Sans', sans-serif" xml:space="preserve">5 µm</text>
<text transform="translate(968.5,52.8) scale(1,1.04)" font-size="52" font-weight="bold" fill="#fff" font-family="'Liberation Serif', serif">b)</text>
<clipPath id="pc"><rect x="48.0" y="5.4" width="673.7" height="883.6"/></clipPath>
<g clip-path="url(#pc)" fill="none" stroke-linejoin="round" stroke-linecap="round">
<path d="M48.0,226.0 L49.0,225.6 L50.0,224.9 L51.0,225.1 L52.0,224.7 L53.0,225.0 L54.0,224.8 L55.0,225.1 L56.0,224.6 L57.0,224.9 L58.0,224.4 L59.0,224.0 L60.0,223.6 L61.0,224.2 L62.0,224.0 L63.0,223.7 L64.0,223.2 L65.0,223.3 L66.0,223.4 L67.0,223.3 L68.0,223.3 L69.0,223.4 L70.0,223.6 L71.0,223.4 L72.0,223.0 L73.0,222.6 L74.0,222.1 L75.0,222.0 L76.0,222.1 L77.0,222.1 L78.0,221.8 L79.0,221.4 L80.0,221.2 L81.0,221.0 L82.0,221.1 L83.0,220.9 L84.0,220.9 L85.0,221.3 L86.0,221.6 L87.0,221.3 L88.0,220.6 L89.0,220.0 L90.0,220.3 L91.0,220.6 L92.0,220.3 L93.0,219.8 L94.0,220.2 L95.0,220.3 L96.0,220.1 L97.0,219.6 L98.0,219.3 L99.0,218.6 L100.0,218.2 L101.0,218.1 L102.0,218.3 L103.0,218.4 L104.0,218.5 L105.0,218.2 L106.0,217.9 L107.0,217.3 L108.0,217.1 L109.0,216.8 L110.0,216.5 L111.0,215.9 L112.0,215.4 L113.0,215.3 L114.0,215.1 L115.0,215.1 L116.0,214.0 L117.0,212.4 L118.0,211.1 L119.0,210.6 L120.0,210.2 L121.0,209.2 L122.0,207.2 L123.0,204.9 L124.0,202.6 L125.0,199.9 L126.0,195.6 L127.0,189.2 L128.0,180.7 L129.0,169.6 L130.0,156.0 L131.0,139.4 L132.0,120.1 L133.0,99.0 L134.0,78.5 L135.0,61.4 L136.0,51.6 L137.0,51.5 L138.0,60.8 L139.0,76.7 L140.0,95.8 L141.0,115.8 L142.0,134.3 L143.0,150.2 L144.0,163.0 L145.0,173.0 L146.0,180.7 L147.0,186.3 L148.0,190.7 L149.0,193.7 L150.0,196.2 L151.0,197.4 L152.0,198.5 L153.0,199.7 L154.0,200.7 L155.0,201.2 L156.0,201.7 L157.0,202.2 L158.0,202.6 L159.0,203.4 L160.0,203.9 L161.0,204.1 L162.0,204.1 L163.0,204.5 L164.0,204.5 L165.0,205.4 L166.0,206.1 L167.0,206.8 L168.0,206.7 L169.0,207.3 L170.0,208.3 L171.0,208.5 L172.0,208.7 L173.0,209.2 L174.0,210.1 L175.0,209.9 L176.0,209.9 L177.0,210.3 L178.0,210.7 L179.0,210.4 L180.0,210.8 L181.0,211.5 L182.0,211.9 L183.0,212.0 L184.0,211.8 L185.0,212.2 L186.0,212.5 L187.0,212.9 L188.0,212.8 L189.0,213.2 L190.0,213.7 L191.0,214.0 L192.0,214.0 L193.0,214.1 L194.0,214.2 L195.0,214.5 L196.0,214.8 L197.0,214.7 L198.0,214.2 L199.0,214.3 L200.0,215.3 L201.0,216.1 L202.0,215.9 L203.0,215.4 L204.0,215.4 L205.0,215.5 L206.0,215.4 L207.0,215.3 L208.0,215.2 L209.0,215.6 L210.0,215.8 L211.0,216.1 L212.0,216.1 L213.0,216.4 L214.0,216.5 L215.0,217.0 L216.0,216.6 L217.0,216.1 L218.0,216.0 L219.0,217.1 L220.0,217.4 L221.0,217.0 L222.0,216.4 L223.0,216.8 L224.0,216.9 L225.0,217.0 L226.0,216.7 L227.0,216.5 L228.0,216.4 L229.0,216.7 L230.0,217.3 L231.0,217.3 L232.0,217.0 L233.0,216.8 L234.0,217.0 L235.0,217.2 L236.0,217.1 L237.0,217.3 L238.0,217.4 L239.0,217.8 L240.0,217.9 L241.0,218.0 L242.0,217.2 L243.0,216.9 L244.0,217.0 L245.0,217.6 L246.0,217.7 L247.0,217.6 L248.0,217.5 L249.0,217.2 L250.0,217.7 L251.0,217.4 L252.0,216.9 L253.0,216.1 L254.0,216.2 L255.0,216.4 L256.0,217.2 L257.0,217.6 L258.0,217.4 L259.0,217.2 L260.0,217.3 L261.0,217.2 L262.0,217.1 L263.0,217.6 L264.0,217.8 L265.0,217.8 L266.0,217.9 L267.0,218.3 L268.0,218.2 L269.0,218.4 L270.0,218.2 L271.0,217.7 L272.0,217.8 L273.0,218.0 L274.0,218.0 L275.0,217.3 L276.0,217.4 L277.0,217.5 L278.0,217.7 L279.0,217.9 L280.0,218.3 L281.0,218.4 L282.0,217.8 L283.0,217.0 L284.0,216.9 L285.0,216.9 L286.0,217.2 L287.0,217.5 L288.0,217.7 L289.0,217.5 L290.0,217.3 L291.0,217.1 L292.0,217.3 L293.0,217.8 L294.0,217.9 L295.0,218.1 L296.0,217.8 L297.0,217.6 L298.0,217.2 L299.0,216.8 L300.0,217.1 L301.0,217.6 L302.0,217.8 L303.0,217.7 L304.0,218.0 L305.0,218.2 L306.0,217.5 L307.0,217.3 L308.0,216.9 L309.0,217.1 L310.0,217.1 L311.0,217.3 L312.0,217.4 L313.0,217.6 L314.0,217.5 L315.0,217.2 L316.0,216.9 L317.0,216.9 L318.0,217.2 L319.0,217.5 L320.0,217.3 L321.0,216.6 L322.0,215.9 L323.0,215.2 L324.0,215.3 L325.0,215.2 L326.0,215.3 L327.0,214.3 L328.0,213.4 L329.0,212.3 L330.0,211.7 L331.0,210.8 L332.0,209.6 L333.0,208.1 L334.0,206.9 L335.0,205.5 L336.0,204.6 L337.0,204.1 L338.0,204.2 L339.0,204.6 L340.0,205.2 L341.0,206.1 L342.0,207.1 L343.0,208.6 L344.0,210.0 L345.0,211.0 L346.0,211.9 L347.0,213.1 L348.0,213.9 L349.0,213.9 L350.0,213.8 L351.0,214.5 L352.0,215.4 L353.0,215.9 L354.0,215.9 L355.0,215.8 L356.0,215.8 L357.0,216.3 L358.0,216.4 L359.0,216.8 L360.0,216.6 L361.0,217.1 L362.0,217.3 L363.0,217.4 L364.0,216.8 L365.0,216.4 L366.0,216.0 L367.0,216.0 L368.0,216.1 L369.0,216.3 L370.0,216.3 L371.0,216.6 L372.0,216.9 L373.0,216.9 L374.0,217.0 L375.0,216.9 L376.0,217.2 L377.0,217.2 L378.0,217.4 L379.0,217.0 L380.0,216.8 L381.0,216.9 L382.0,217.2 L383.0,216.6 L384.0,215.8 L385.0,215.4 L386.0,215.3 L387.0,215.7 L388.0,216.7 L389.0,217.2 L390.0,217.3 L391.0,217.0 L392.0,217.1 L393.0,217.0 L394.0,217.0 L395.0,217.1 L396.0,217.0 L397.0,217.1 L398.0,217.4 L399.0,217.6 L400.0,217.5 L401.0,217.2 L402.0,217.0 L403.0,216.8 L404.0,217.0 L405.0,217.0 L406.0,216.8 L407.0,216.7 L408.0,217.0 L409.0,216.8 L410.0,216.8 L411.0,216.7 L412.0,217.2 L413.0,217.4 L414.0,216.8 L415.0,216.5 L416.0,216.7 L417.0,217.3 L418.0,217.0 L419.0,217.1 L420.0,217.1 L421.0,217.5 L422.0,217.6 L423.0,218.1 L424.0,217.6 L425.0,216.8 L426.0,216.4 L427.0,217.0 L428.0,217.4 L429.0,216.8 L430.0,216.4 L431.0,216.6 L432.0,216.9 L433.0,216.9 L434.0,216.7 L435.0,216.6 L436.0,216.4 L437.0,216.1 L438.0,216.6 L439.0,216.9 L440.0,217.1 L441.0,216.5 L442.0,216.7 L443.0,216.3 L444.0,216.5 L445.0,216.5 L446.0,217.2 L447.0,216.9 L448.0,216.6 L449.0,216.3 L450.0,216.8 L451.0,216.7 L452.0,216.5 L453.0,215.7 L454.0,215.4 L455.0,215.5 L456.0,216.2 L457.0,216.3 L458.0,216.5 L459.0,216.7 L460.0,216.7 L461.0,215.4 L462.0,214.4 L463.0,214.2 L464.0,214.9 L465.0,215.4 L466.0,214.9 L467.0,214.3 L468.0,214.6 L469.0,215.0 L470.0,214.5 L471.0,214.4 L472.0,214.6 L473.0,214.2 L474.0,213.6 L475.0,213.4 L476.0,213.1 L477.0,212.9 L478.0,212.9 L479.0,212.8 L480.0,212.0 L481.0,211.4 L482.0,210.7 L483.0,210.0 L484.0,209.1 L485.0,208.4 L486.0,207.4 L487.0,206.0 L488.0,203.7 L489.0,200.9 L490.0,198.9 L491.0,196.9 L492.0,194.2 L493.0,190.5 L494.0,187.1 L495.0,183.2 L496.0,179.5 L497.0,175.1 L498.0,171.2 L499.0,167.5 L500.0,164.4 L501.0,162.4 L502.0,161.4 L503.0,161.9 L504.0,163.7 L505.0,166.8 L506.0,170.3 L507.0,174.0 L508.0,178.0 L509.0,182.4 L510.0,186.5 L511.0,190.2 L512.0,193.0 L513.0,195.8 L514.0,198.7 L515.0,201.2 L516.0,202.7 L517.0,203.9 L518.0,205.1 L519.0,206.2 L520.0,207.4 L521.0,208.2 L522.0,208.7 L523.0,208.3 L524.0,208.5 L525.0,209.1 L526.0,209.9 L527.0,210.5 L528.0,210.6 L529.0,210.7 L530.0,210.9 L531.0,211.8 L532.0,212.4 L533.0,212.6 L534.0,212.9 L535.0,213.2 L536.0,212.9 L537.0,212.5 L538.0,212.6 L539.0,212.9 L540.0,213.1 L541.0,212.8 L542.0,212.7 L543.0,212.9 L544.0,213.0 L545.0,212.8 L546.0,212.9 L547.0,213.2 L548.0,213.5 L549.0,213.6 L550.0,213.9 L551.0,214.0 L552.0,214.4 L553.0,214.4 L554.0,214.6 L555.0,214.5 L556.0,214.8 L557.0,215.4 L558.0,215.7 L559.0,215.6 L560.0,215.0 L561.0,215.1 L562.0,215.1 L563.0,215.1 L564.0,215.2 L565.0,215.6 L566.0,216.0 L567.0,216.4 L568.0,216.3 L569.0,216.0 L570.0,216.2 L571.0,216.7 L572.0,216.8 L573.0,216.8 L574.0,216.5 L575.0,216.4 L576.0,216.6 L577.0,217.2 L578.0,216.9 L579.0,216.4 L580.0,216.3 L581.0,216.5 L582.0,216.5 L583.0,216.6 L584.0,216.7 L585.0,216.3 L586.0,216.2 L587.0,216.4 L588.0,216.6 L589.0,216.2 L590.0,216.5 L591.0,216.4 L592.0,216.2 L593.0,216.0 L594.0,216.9 L595.0,217.7 L596.0,217.6 L597.0,217.1 L598.0,216.6 L599.0,217.0 L600.0,216.9 L601.0,217.1 L602.0,217.2 L603.0,217.6 L604.0,217.9 L605.0,217.6 L606.0,217.6 L607.0,217.6 L608.0,217.8 L609.0,218.0 L610.0,218.1 L611.0,217.7 L612.0,218.2 L613.0,218.6 L614.0,218.8 L615.0,217.6 L616.0,217.4 L617.0,217.4 L618.0,217.8 L619.0,218.0 L620.0,218.5 L621.0,218.6 L622.0,218.5 L623.0,218.2 L624.0,218.1 L625.0,218.0 L626.0,218.2 L627.0,218.5 L628.0,218.4 L629.0,217.8 L630.0,217.6 L631.0,218.1 L632.0,218.4 L633.0,218.8 L634.0,218.5 L635.0,218.4 L636.0,217.5 L637.0,217.3 L638.0,217.4 L639.0,218.1 L640.0,218.7 L641.0,218.9 L642.0,219.0 L643.0,218.9 L644.0,219.0 L645.0,218.7 L646.0,218.7 L647.0,218.4 L648.0,218.4 L649.0,218.0 L650.0,218.1 L651.0,217.7 L652.0,217.7 L653.0,218.0 L654.0,218.4 L655.0,218.2 L656.0,218.3 L657.0,218.6 L658.0,219.1 L659.0,219.0 L660.0,218.8 L661.0,218.0 L662.0,217.5 L663.0,218.0 L664.0,218.4 L665.0,218.6 L666.0,218.4 L667.0,218.6 L668.0,218.1 L669.0,218.3 L670.0,218.5 L671.0,219.0 L672.0,218.8 L673.0,219.0 L674.0,218.8 L675.0,218.9 L676.0,218.4 L677.0,218.0 L678.0,218.1 L679.0,218.5 L680.0,218.7 L681.0,218.5 L682.0,218.6 L683.0,218.6 L684.0,218.7 L685.0,218.4 L686.0,218.4 L687.0,218.5 L688.0,219.1 L689.0,218.9 L690.0,218.7 L691.0,218.4 L692.0,218.7 L693.0,218.2 L694.0,218.0 L695.0,217.8 L696.0,218.2 L697.0,218.8 L698.0,219.3 L699.0,219.6 L700.0,219.6 L701.0,219.3 L702.0,218.8 L703.0,218.8 L704.0,219.0 L705.0,218.9 L706.0,218.4 L707.0,218.2 L708.0,217.8 L709.0,217.8 L710.0,217.7 L711.0,218.5 L712.0,218.6 L713.0,218.7 L714.0,218.8 L715.0,218.8 L716.0,218.8 L717.0,218.2 L718.0,218.3 L719.0,218.4 L720.0,219.1 L721.0,219.1" stroke="#ff00ff" stroke-width="2.9"/>
<path d="M48.0,437.3 L49.0,436.5 L50.0,436.7 L51.0,436.1 L52.0,435.6 L53.0,434.7 L54.0,433.5 L55.0,430.9 L56.0,427.9 L57.0,429.9 L58.0,433.5 L59.0,435.2 L60.0,434.6 L61.0,433.3 L62.0,432.2 L63.0,431.1 L64.0,429.9 L65.0,428.5 L66.0,427.1 L67.0,425.3 L68.0,424.3 L69.0,423.3 L70.0,422.2 L71.0,420.9 L72.0,419.6 L73.0,418.6 L74.0,417.1 L75.0,415.5 L76.0,414.4 L77.0,413.7 L78.0,413.6 L79.0,411.8 L80.0,410.1 L81.0,408.4 L82.0,408.0 L83.0,405.9 L84.0,402.2 L85.0,397.8 L86.0,393.9 L87.0,390.1 L88.0,385.7 L89.0,379.4 L90.0,372.2 L91.0,363.6 L92.0,354.0 L93.0,342.3 L94.0,328.9 L95.0,312.5 L96.0,295.2 L97.0,279.1 L98.0,270.6 L99.0,279.0 L100.0,292.6 L101.0,308.0 L102.0,324.0 L103.0,336.9 L104.0,348.2 L105.0,357.9 L106.0,365.4 L107.0,371.3 L108.0,377.0 L109.0,382.6 L110.0,387.3 L111.0,389.9 L112.0,392.1 L113.0,393.3 L114.0,394.3 L115.0,395.1 L116.0,396.3 L117.0,397.2 L118.0,397.7 L119.0,398.2 L120.0,398.8 L121.0,398.8 L122.0,399.9 L123.0,399.8 L124.0,400.3 L125.0,401.0 L126.0,402.2 L127.0,402.9 L128.0,403.8 L129.0,405.7 L130.0,407.2 L131.0,407.9 L132.0,407.8 L133.0,408.4 L134.0,410.0 L135.0,410.9 L136.0,410.9 L137.0,411.3 L138.0,412.1 L139.0,412.6 L140.0,413.3 L141.0,413.1 L142.0,413.5 L143.0,413.8 L144.0,414.6 L145.0,415.0 L146.0,414.5 L147.0,414.9 L148.0,415.3 L149.0,415.8 L150.0,415.6 L151.0,415.7 L152.0,417.1 L153.0,418.0 L154.0,418.3 L155.0,417.2 L156.0,416.4 L157.0,416.3 L158.0,416.5 L159.0,416.4 L160.0,416.4 L161.0,416.6 L162.0,416.8 L163.0,416.8 L164.0,416.7 L165.0,417.7 L166.0,417.9 L167.0,417.5 L168.0,416.9 L169.0,417.5 L170.0,418.0 L171.0,418.3 L172.0,419.0 L173.0,419.2 L174.0,418.7 L175.0,418.5 L176.0,418.0 L177.0,418.1 L178.0,417.8 L179.0,418.1 L180.0,418.4 L181.0,418.8 L182.0,419.5 L183.0,419.0 L184.0,419.2 L185.0,419.4 L186.0,420.0 L187.0,419.3 L188.0,418.9 L189.0,418.6 L190.0,418.3 L191.0,419.5 L192.0,421.1 L193.0,422.2 L194.0,421.2 L195.0,420.9 L196.0,420.8 L197.0,421.2 L198.0,421.1 L199.0,420.8 L200.0,419.9 L201.0,420.0 L202.0,420.6 L203.0,421.7 L204.0,421.6 L205.0,421.9 L206.0,421.7 L207.0,421.1 L208.0,420.8 L209.0,421.0 L210.0,420.9 L211.0,420.5 L212.0,421.1 L213.0,421.7 L214.0,421.7 L215.0,422.9 L216.0,423.5 L217.0,423.5 L218.0,421.5 L219.0,420.9 L220.0,421.0 L221.0,421.5 L222.0,421.0 L223.0,420.8 L224.0,421.0 L225.0,421.0 L226.0,421.2 L227.0,422.0 L228.0,422.3 L229.0,421.6 L230.0,421.3 L231.0,421.6 L232.0,422.0 L233.0,421.3 L234.0,420.6 L235.0,420.7 L236.0,421.5 L237.0,421.9 L238.0,422.1 L239.0,421.4 L240.0,420.6 L241.0,419.9 L242.0,420.8 L243.0,421.3 L244.0,421.7 L245.0,421.4 L246.0,421.2 L247.0,420.4 L248.0,419.7 L249.0,419.8 L250.0,420.6 L251.0,421.1 L252.0,420.7 L253.0,420.1 L254.0,420.1 L255.0,420.0 L256.0,419.5 L257.0,418.6 L258.0,418.7 L259.0,418.8 L260.0,418.7 L261.0,418.1 L262.0,418.2 L263.0,418.3 L264.0,418.3 L265.0,418.2 L266.0,417.8 L267.0,417.1 L268.0,417.3 L269.0,417.5 L270.0,416.7 L271.0,415.5 L272.0,414.8 L273.0,414.9 L274.0,414.8 L275.0,415.1 L276.0,414.6 L277.0,414.1 L278.0,413.6 L279.0,413.0 L280.0,412.3 L281.0,411.4 L282.0,411.2 L283.0,411.0 L284.0,412.2 L285.0,412.8 L286.0,413.8 L287.0,413.5 L288.0,413.7 L289.0,414.0 L290.0,414.9 L291.0,415.9 L292.0,416.4 L293.0,416.7 L294.0,417.0 L295.0,417.3 L296.0,417.6 L297.0,417.5 L298.0,417.8 L299.0,418.2 L300.0,418.5 L301.0,417.7 L302.0,417.6 L303.0,418.1 L304.0,419.1 L305.0,419.3 L306.0,420.0 L307.0,420.3 L308.0,420.3 L309.0,419.5 L310.0,419.0 L311.0,418.7 L312.0,418.6 L313.0,418.9 L314.0,418.8 L315.0,419.0 L316.0,418.5 L317.0,418.1 L318.0,417.9 L319.0,418.1 L320.0,418.3 L321.0,418.4 L322.0,418.6 L323.0,419.1 L324.0,419.9 L325.0,420.2 L326.0,419.6 L327.0,419.4 L328.0,418.8 L329.0,417.8 L330.0,417.2 L331.0,417.8 L332.0,418.2 L333.0,417.9 L334.0,417.2 L335.0,416.3 L336.0,416.3 L337.0,416.9 L338.0,416.4 L339.0,415.7 L340.0,414.4 L341.0,413.1 L342.0,411.3 L343.0,409.7 L344.0,407.2 L345.0,403.7 L346.0,399.8 L347.0,396.1 L348.0,392.1 L349.0,387.0 L350.0,381.6 L351.0,377.3 L352.0,373.7 L353.0,371.2 L354.0,370.5 L355.0,372.7 L356.0,376.8 L357.0,382.3 L358.0,387.2 L359.0,392.0 L360.0,396.6 L361.0,400.6 L362.0,402.2 L363.0,402.9 L364.0,403.8 L365.0,404.8 L366.0,405.0 L367.0,405.4 L368.0,407.2 L369.0,409.4 L370.0,410.2 L371.0,410.7 L372.0,412.4 L373.0,414.8 L374.0,415.9 L375.0,416.2 L376.0,416.6 L377.0,417.3 L378.0,417.1 L379.0,416.8 L380.0,416.9 L381.0,417.9 L382.0,417.8 L383.0,418.0 L384.0,417.8 L385.0,418.0 L386.0,417.7 L387.0,417.4 L388.0,417.1 L389.0,417.3 L390.0,417.5 L391.0,417.9 L392.0,417.7 L393.0,417.3 L394.0,417.1 L395.0,416.7 L396.0,416.0 L397.0,414.7 L398.0,414.0 L399.0,414.0 L400.0,414.1 L401.0,414.0 L402.0,412.8 L403.0,411.5 L404.0,410.6 L405.0,410.2 L406.0,411.0 L407.0,411.3 L408.0,410.8 L409.0,409.2 L410.0,408.3 L411.0,408.4 L412.0,408.2 L413.0,408.2 L414.0,408.3 L415.0,407.9 L416.0,406.7 L417.0,406.0 L418.0,406.1 L419.0,406.7 L420.0,406.6 L421.0,406.8 L422.0,406.7 L423.0,406.8 L424.0,406.4 L425.0,406.6 L426.0,407.7 L427.0,408.5 L428.0,408.1 L429.0,407.5 L430.0,407.5 L431.0,407.3 L432.0,407.2 L433.0,408.1 L434.0,408.8 L435.0,408.4 L436.0,408.2 L437.0,409.5 L438.0,410.8 L439.0,411.3 L440.0,412.0 L441.0,412.9 L442.0,413.2 L443.0,412.8 L444.0,412.7 L445.0,413.0 L446.0,413.9 L447.0,414.2 L448.0,415.1 L449.0,415.7 L450.0,416.2 L451.0,416.4 L452.0,416.3 L453.0,416.2 L454.0,416.3 L455.0,417.7 L456.0,418.4 L457.0,419.4 L458.0,419.5 L459.0,420.0 L460.0,419.7 L461.0,420.5 L462.0,420.7 L463.0,421.2 L464.0,421.0 L465.0,420.9 L466.0,420.9 L467.0,421.8 L468.0,422.2 L469.0,421.8 L470.0,421.5 L471.0,422.4 L472.0,422.8 L473.0,422.6 L474.0,422.6 L475.0,422.9 L476.0,423.1 L477.0,423.5 L478.0,423.7 L479.0,423.4 L480.0,423.2 L481.0,423.3 L482.0,422.9 L483.0,422.1 L484.0,421.7 L485.0,422.6 L486.0,423.2 L487.0,423.5 L488.0,423.2 L489.0,422.8 L490.0,422.6 L491.0,422.3 L492.0,421.8 L493.0,421.3 L494.0,421.2 L495.0,421.7 L496.0,421.9 L497.0,423.1 L498.0,423.2 L499.0,422.7 L500.0,422.0 L501.0,422.3 L502.0,422.2 L503.0,421.6 L504.0,421.0 L505.0,421.0 L506.0,421.0 L507.0,420.9 L508.0,420.6 L509.0,421.2 L510.0,421.1 L511.0,421.8 L512.0,421.5 L513.0,421.3 L514.0,420.1 L515.0,420.4 L516.0,421.2 L517.0,421.2 L518.0,420.7 L519.0,420.3 L520.0,420.3 L521.0,420.2 L522.0,420.4 L523.0,419.8 L524.0,418.6 L525.0,418.4 L526.0,419.2 L527.0,420.2 L528.0,419.6 L529.0,419.1 L530.0,419.5 L531.0,420.0 L532.0,420.2 L533.0,419.7 L534.0,420.0 L535.0,419.6 L536.0,420.3 L537.0,420.2 L538.0,420.1 L539.0,419.6 L540.0,420.9 L541.0,421.8 L542.0,422.4 L543.0,422.2 L544.0,422.2 L545.0,422.4 L546.0,423.1 L547.0,423.3 L548.0,422.7 L549.0,422.4 L550.0,422.8 L551.0,422.9 L552.0,422.4 L553.0,422.2 L554.0,423.3 L555.0,423.6 L556.0,423.0 L557.0,422.2 L558.0,422.2 L559.0,423.2 L560.0,423.3 L561.0,422.7 L562.0,421.8 L563.0,421.4 L564.0,421.6 L565.0,421.5 L566.0,421.0 L567.0,421.0 L568.0,421.0 L569.0,421.1 L570.0,421.1 L571.0,422.1 L572.0,422.1 L573.0,422.0 L574.0,420.8 L575.0,420.6 L576.0,419.9 L577.0,420.2 L578.0,419.6 L579.0,419.4 L580.0,419.2 L581.0,419.3 L582.0,419.5 L583.0,420.4 L584.0,420.4 L585.0,419.8 L586.0,418.4 L587.0,417.5 L588.0,418.0 L589.0,418.5 L590.0,418.8 L591.0,418.4 L592.0,419.3 L593.0,419.7 L594.0,420.3 L595.0,420.1 L596.0,419.1 L597.0,418.4 L598.0,418.7 L599.0,419.0 L600.0,418.8 L601.0,418.6 L602.0,419.4 L603.0,419.6 L604.0,419.0 L605.0,418.5 L606.0,418.2 L607.0,418.6 L608.0,418.9 L609.0,419.2 L610.0,418.8 L611.0,418.5 L612.0,419.3 L613.0,419.9 L614.0,419.5 L615.0,418.4 L616.0,418.2 L617.0,418.7 L618.0,418.9 L619.0,419.0 L620.0,419.1 L621.0,419.7 L622.0,420.0 L623.0,420.1 L624.0,419.8 L625.0,419.6 L626.0,420.0 L627.0,420.4 L628.0,420.7 L629.0,420.6 L630.0,420.6 L631.0,421.7 L632.0,422.1 L633.0,422.3 L634.0,421.9 L635.0,422.0 L636.0,422.0 L637.0,422.0 L638.0,422.6 L639.0,422.9 L640.0,423.5 L641.0,423.9 L642.0,423.8 L643.0,423.4 L644.0,423.0 L645.0,422.9 L646.0,422.6 L647.0,422.9 L648.0,423.5 L649.0,423.9 L650.0,423.2 L651.0,422.5 L652.0,421.8 L653.0,422.2 L654.0,423.2 L655.0,424.4 L656.0,424.4 L657.0,423.7 L658.0,423.4 L659.0,423.6 L660.0,424.2 L661.0,424.6 L662.0,424.5 L663.0,424.1 L664.0,424.2 L665.0,424.5 L666.0,424.4 L667.0,423.4 L668.0,422.8 L669.0,423.3 L670.0,424.3 L671.0,424.7 L672.0,424.4 L673.0,424.3 L674.0,424.3 L675.0,424.7 L676.0,424.8 L677.0,424.9 L678.0,425.2 L679.0,425.5 L680.0,424.6 L681.0,423.6 L682.0,423.2 L683.0,423.5 L684.0,423.1 L685.0,423.4 L686.0,423.4 L687.0,423.5 L688.0,422.3 L689.0,422.0 L690.0,421.9 L691.0,422.2 L692.0,422.4 L693.0,423.3 L694.0,423.3 L695.0,422.2 L696.0,421.8 L697.0,422.4 L698.0,422.3 L699.0,421.0 L700.0,420.7 L701.0,421.0 L702.0,421.8 L703.0,421.3 L704.0,420.7 L705.0,420.1 L706.0,420.3 L707.0,420.7 L708.0,421.2 L709.0,421.0 L710.0,420.5 L711.0,420.2 L712.0,420.8 L713.0,420.9 L714.0,420.5 L715.0,420.1 L716.0,420.3 L717.0,421.1 L718.0,421.8 L719.0,422.4 L720.0,422.4 L721.0,422.0" stroke="#0000ff" stroke-width="2.9"/>
<path d="M48.0,668.3 L49.0,668.1 L50.0,666.6 L51.0,666.0 L52.0,665.9 L53.0,666.4 L54.0,666.1 L55.0,666.0 L56.0,665.7 L57.0,665.1 L58.0,665.1 L59.0,665.5 L60.0,666.2 L61.0,665.6 L62.0,664.4 L63.0,663.0 L64.0,661.7 L65.0,661.4 L66.0,660.7 L67.0,659.6 L68.0,658.0 L69.0,657.9 L70.0,657.3 L71.0,655.3 L72.0,652.7 L73.0,651.2 L74.0,649.9 L75.0,647.9 L76.0,645.2 L77.0,642.8 L78.0,640.5 L79.0,636.8 L80.0,632.3 L81.0,627.7 L82.0,623.3 L83.0,618.9 L84.0,614.6 L85.0,611.3 L86.0,607.4 L87.0,602.6 L88.0,597.6 L89.0,593.0 L90.0,587.6 L91.0,581.4 L92.0,575.9 L93.0,570.6 L94.0,565.2 L95.0,559.1 L96.0,553.5 L97.0,548.4 L98.0,544.2 L99.0,539.7 L100.0,535.2 L101.0,531.0 L102.0,526.1 L103.0,521.7 L104.0,517.1 L105.0,513.6 L106.0,509.7 L107.0,507.7 L108.0,505.9 L109.0,503.8 L110.0,501.5 L111.0,499.0 L112.0,496.9 L113.0,494.9 L114.0,493.6 L115.0,492.6 L116.0,492.9 L117.0,493.1 L118.0,494.1 L119.0,494.5 L120.0,494.0 L121.0,492.5 L122.0,493.1 L123.0,496.2 L124.0,500.4 L125.0,504.2 L126.0,507.7 L127.0,510.3 L128.0,513.1 L129.0,515.7 L130.0,518.6 L131.0,521.2 L132.0,524.6 L133.0,528.4 L134.0,531.3 L135.0,533.3 L136.0,536.4 L137.0,540.4 L138.0,544.9 L139.0,548.3 L140.0,552.0 L141.0,555.5 L142.0,558.8 L143.0,562.0 L144.0,564.9 L145.0,567.4 L146.0,570.7 L147.0,574.1 L148.0,575.9 L149.0,577.1 L150.0,579.2 L151.0,582.2 L152.0,584.2 L153.0,585.6 L154.0,586.5 L155.0,588.4 L156.0,590.6 L157.0,592.3 L158.0,593.5 L159.0,594.7 L160.0,596.5 L161.0,597.6 L162.0,598.9 L163.0,600.1 L164.0,601.5 L165.0,601.9 L166.0,602.7 L167.0,603.4 L168.0,604.4 L169.0,604.6 L170.0,604.8 L171.0,605.3 L172.0,606.6 L173.0,607.9 L174.0,608.5 L175.0,608.9 L176.0,609.1 L177.0,609.6 L178.0,611.2 L179.0,612.7 L180.0,613.0 L181.0,613.0 L182.0,613.3 L183.0,613.8 L184.0,614.5 L185.0,615.3 L186.0,615.3 L187.0,615.1 L188.0,616.0 L189.0,617.3 L190.0,618.7 L191.0,619.1 L192.0,619.7 L193.0,620.1 L194.0,620.9 L195.0,621.4 L196.0,622.2 L197.0,622.4 L198.0,623.0 L199.0,623.2 L200.0,623.8 L201.0,624.2 L202.0,625.3 L203.0,625.6 L204.0,626.0 L205.0,626.5 L206.0,627.6 L207.0,628.0 L208.0,628.3 L209.0,628.4 L210.0,628.7 L211.0,629.9 L212.0,630.9 L213.0,631.0 L214.0,630.8 L215.0,631.2 L216.0,632.0 L217.0,632.4 L218.0,633.0 L219.0,633.0 L220.0,632.9 L221.0,633.4 L222.0,633.4 L223.0,633.3 L224.0,633.7 L225.0,635.1 L226.0,636.2 L227.0,637.1 L228.0,637.4 L229.0,637.1 L230.0,636.4 L231.0,635.7 L232.0,635.5 L233.0,635.5 L234.0,636.6 L235.0,637.5 L236.0,637.9 L237.0,637.6 L238.0,637.0 L239.0,637.2 L240.0,637.9 L241.0,638.8 L242.0,638.7 L243.0,639.4 L244.0,640.1 L245.0,640.4 L246.0,639.4 L247.0,638.9 L248.0,639.1 L249.0,639.4 L250.0,639.7 L251.0,640.0 L252.0,640.5 L253.0,640.8 L254.0,640.5 L255.0,640.0 L256.0,639.5 L257.0,639.2 L258.0,639.8 L259.0,640.0 L260.0,640.7 L261.0,640.2 L262.0,640.1 L263.0,639.9 L264.0,640.1 L265.0,640.0 L266.0,639.6 L267.0,639.4 L268.0,639.1 L269.0,639.0 L270.0,639.7 L271.0,640.0 L272.0,640.6 L273.0,639.3 L274.0,638.8 L275.0,638.7 L276.0,639.7 L277.0,639.9 L278.0,640.1 L279.0,640.1 L280.0,639.7 L281.0,640.5 L282.0,641.0 L283.0,640.6 L284.0,639.4 L285.0,639.2 L286.0,638.6 L287.0,638.5 L288.0,639.4 L289.0,640.5 L290.0,640.5 L291.0,639.9 L292.0,640.2 L293.0,640.2 L294.0,640.3 L295.0,640.1 L296.0,639.7 L297.0,639.4 L298.0,638.2 L299.0,637.4 L300.0,637.0 L301.0,637.5 L302.0,637.3 L303.0,636.9 L304.0,636.6 L305.0,637.3 L306.0,637.8 L307.0,637.3 L308.0,636.3 L309.0,635.7 L310.0,635.3 L311.0,634.6 L312.0,634.7 L313.0,633.6 L314.0,632.9 L315.0,632.1 L316.0,631.7 L317.0,631.3 L318.0,630.8 L319.0,631.2 L320.0,630.9 L321.0,630.9 L322.0,629.9 L323.0,629.5 L324.0,628.3 L325.0,627.5 L326.0,626.8 L327.0,627.2 L328.0,626.9 L329.0,627.1 L330.0,626.6 L331.0,627.0 L332.0,627.9 L333.0,628.2 L334.0,627.3 L335.0,626.6 L336.0,627.2 L337.0,628.1 L338.0,627.8 L339.0,626.8 L340.0,625.9 L341.0,626.0 L342.0,625.8 L343.0,626.4 L344.0,626.9 L345.0,628.2 L346.0,629.2 L347.0,629.8 L348.0,629.3 L349.0,629.5 L350.0,631.1 L351.0,632.1 L352.0,632.1 L353.0,632.0 L354.0,633.0 L355.0,633.7 L356.0,634.6 L357.0,635.3 L358.0,635.9 L359.0,635.5 L360.0,635.6 L361.0,635.8 L362.0,635.6 L363.0,635.8 L364.0,635.8 L365.0,636.6 L366.0,636.4 L367.0,637.8 L368.0,638.4 L369.0,639.1 L370.0,638.8 L371.0,638.1 L372.0,636.6 L373.0,636.0 L374.0,636.9 L375.0,637.7 L376.0,637.8 L377.0,637.7 L378.0,636.9 L379.0,636.2 L380.0,636.5 L381.0,636.8 L382.0,635.4 L383.0,634.2 L384.0,634.1 L385.0,634.7 L386.0,634.3 L387.0,634.0 L388.0,632.9 L389.0,632.8 L390.0,633.3 L391.0,634.2 L392.0,632.9 L393.0,631.7 L394.0,629.9 L395.0,629.7 L396.0,629.5 L397.0,629.7 L398.0,629.2 L399.0,628.9 L400.0,629.1 L401.0,628.7 L402.0,628.1 L403.0,626.6 L404.0,625.4 L405.0,624.7 L406.0,625.1 L407.0,625.1 L408.0,625.3 L409.0,624.5 L410.0,623.6 L411.0,622.7 L412.0,622.5 L413.0,622.1 L414.0,621.4 L415.0,621.3 L416.0,620.6 L417.0,620.4 L418.0,619.5 L419.0,619.4 L420.0,618.0 L421.0,617.3 L422.0,616.2 L423.0,616.1 L424.0,615.8 L425.0,615.1 L426.0,613.8 L427.0,612.5 L428.0,612.5 L429.0,612.0 L430.0,611.8 L431.0,611.0 L432.0,610.8 L433.0,610.2 L434.0,610.6 L435.0,610.6 L436.0,610.2 L437.0,609.8 L438.0,609.7 L439.0,608.7 L440.0,608.3 L441.0,609.5 L442.0,612.2 L443.0,614.6 L444.0,616.2 L445.0,617.0 L446.0,617.1 L447.0,618.1 L448.0,619.8 L449.0,622.0 L450.0,623.0 L451.0,623.8 L452.0,625.0 L453.0,627.3 L454.0,628.6 L455.0,629.1 L456.0,629.2 L457.0,630.1 L458.0,631.3 L459.0,632.8 L460.0,634.5 L461.0,635.9 L462.0,636.7 L463.0,636.9 L464.0,637.1 L465.0,637.2 L466.0,637.9 L467.0,638.7 L468.0,639.4 L469.0,639.0 L470.0,638.7 L471.0,639.1 L472.0,639.5 L473.0,639.6 L474.0,640.7 L475.0,642.4 L476.0,642.9 L477.0,643.0 L478.0,643.3 L479.0,643.4 L480.0,643.1 L481.0,643.0 L482.0,643.8 L483.0,643.5 L484.0,643.4 L485.0,644.1 L486.0,645.5 L487.0,646.5 L488.0,646.3 L489.0,646.4 L490.0,646.4 L491.0,646.1 L492.0,645.6 L493.0,645.7 L494.0,646.4 L495.0,646.3 L496.0,647.0 L497.0,647.2 L498.0,647.2 L499.0,647.1 L500.0,647.4 L501.0,647.4 L502.0,647.6 L503.0,647.7 L504.0,647.5 L505.0,647.0 L506.0,646.7 L507.0,646.8 L508.0,647.9 L509.0,648.5 L510.0,648.5 L511.0,647.6 L512.0,647.7 L513.0,648.5 L514.0,649.5 L515.0,649.6 L516.0,649.0 L517.0,648.5 L518.0,648.5 L519.0,648.2 L520.0,648.3 L521.0,648.8 L522.0,649.6 L523.0,650.2 L524.0,650.1 L525.0,649.4 L526.0,649.2 L527.0,649.2 L528.0,650.0 L529.0,650.5 L530.0,651.1 L531.0,650.8 L532.0,649.9 L533.0,649.9 L534.0,650.9 L535.0,651.1 L536.0,650.6 L537.0,650.9 L538.0,651.3 L539.0,651.7 L540.0,651.5 L541.0,651.4 L542.0,651.3 L543.0,651.9 L544.0,652.0 L545.0,651.8 L546.0,651.3 L547.0,651.9 L548.0,651.9 L549.0,652.5 L550.0,651.9 L551.0,652.4 L552.0,652.9 L553.0,652.9 L554.0,652.9 L555.0,652.8 L556.0,652.8 L557.0,652.5 L558.0,652.4 L559.0,652.4 L560.0,653.0 L561.0,653.6 L562.0,654.3 L563.0,654.3 L564.0,654.0 L565.0,652.9 L566.0,652.5 L567.0,653.2 L568.0,654.1 L569.0,654.1 L570.0,654.3 L571.0,654.0 L572.0,653.6 L573.0,653.4 L574.0,655.1 L575.0,656.0 L576.0,655.5 L577.0,654.8 L578.0,655.1 L579.0,655.9 L580.0,655.6 L581.0,655.0 L582.0,654.7 L583.0,655.2 L584.0,656.2 L585.0,657.1 L586.0,656.8 L587.0,655.8 L588.0,655.1 L589.0,655.4 L590.0,655.7 L591.0,656.1 L592.0,656.3 L593.0,656.7 L594.0,656.6 L595.0,656.0 L596.0,654.9 L597.0,654.6 L598.0,654.7 L599.0,654.6 L600.0,655.2 L601.0,655.9 L602.0,656.4 L603.0,655.8 L604.0,655.2 L605.0,654.9 L606.0,656.0 L607.0,656.1 L608.0,656.1 L609.0,655.9 L610.0,656.9 L611.0,656.6 L612.0,656.6 L613.0,656.3 L614.0,656.4 L615.0,656.8 L616.0,657.0 L617.0,656.2 L618.0,655.8 L619.0,656.6 L620.0,657.5 L621.0,657.7 L622.0,657.1 L623.0,656.0 L624.0,655.8 L625.0,656.4 L626.0,656.4 L627.0,656.2 L628.0,656.3 L629.0,657.1 L630.0,656.8 L631.0,656.6 L632.0,656.0 L633.0,656.0 L634.0,655.9 L635.0,656.9 L636.0,658.5 L637.0,658.8 L638.0,658.1 L639.0,657.3 L640.0,656.8 L641.0,656.6 L642.0,656.0 L643.0,656.9 L644.0,657.5 L645.0,658.1 L646.0,657.1 L647.0,657.0 L648.0,657.2 L649.0,657.4 L650.0,657.0 L651.0,656.3 L652.0,656.2 L653.0,656.6 L654.0,657.4 L655.0,657.3 L656.0,656.5 L657.0,656.5 L658.0,656.8 L659.0,657.1 L660.0,656.6 L661.0,656.8 L662.0,657.5 L663.0,657.9 L664.0,657.9 L665.0,658.0 L666.0,658.5 L667.0,658.4 L668.0,657.7 L669.0,657.0 L670.0,656.9 L671.0,657.3 L672.0,657.9 L673.0,657.9 L674.0,657.6 L675.0,657.0 L676.0,657.6 L677.0,657.7 L678.0,658.0 L679.0,657.5 L680.0,657.4 L681.0,657.1 L682.0,658.0 L683.0,658.6 L684.0,658.6 L685.0,657.6 L686.0,657.2 L687.0,657.5 L688.0,658.6 L689.0,658.5 L690.0,657.6 L691.0,657.0 L692.0,657.4 L693.0,657.0 L694.0,657.0 L695.0,657.7 L696.0,657.8 L697.0,657.6 L698.0,657.9 L699.0,658.9 L700.0,658.6 L701.0,658.9 L702.0,659.1 L703.0,658.7 L704.0,658.1 L705.0,657.7 L706.0,658.0 L707.0,657.4 L708.0,657.9 L709.0,657.5 L710.0,658.2 L711.0,658.4 L712.0,658.7 L713.0,658.2 L714.0,658.3 L715.0,657.6 L716.0,657.3 L717.0,657.3 L718.0,658.1 L719.0,658.2 L720.0,659.4 L721.0,659.5" stroke="#000000" stroke-width="2.8"/>
<path d="M48.0,887.5 L49.0,886.8 L50.0,886.3 L51.0,885.7 L52.0,884.8 L53.0,883.6 L54.0,883.3 L55.0,883.2 L56.0,882.2 L57.0,881.2 L58.0,880.2 L59.0,879.5 L60.0,878.2 L61.0,876.3 L62.0,874.3 L63.0,872.2 L64.0,870.8 L65.0,869.1 L66.0,867.1 L67.0,864.3 L68.0,861.9 L69.0,859.9 L70.0,857.9 L71.0,856.4 L72.0,854.8 L73.0,853.5 L74.0,850.9 L75.0,849.2 L76.0,846.8 L77.0,844.8 L78.0,842.9 L79.0,841.8 L80.0,839.8 L81.0,837.7 L82.0,836.7 L83.0,836.8 L84.0,836.2 L85.0,834.7 L86.0,833.1 L87.0,831.6 L88.0,830.8 L89.0,829.6 L90.0,829.2 L91.0,828.6 L92.0,828.8 L93.0,828.5 L94.0,828.5 L95.0,828.1 L96.0,828.1 L97.0,828.1 L98.0,827.6 L99.0,827.2 L100.0,827.2 L101.0,827.5 L102.0,827.5 L103.0,827.2 L104.0,827.5 L105.0,827.7 L106.0,828.2 L107.0,828.7 L108.0,828.8 L109.0,828.6 L110.0,827.7 L111.0,827.6 L112.0,827.3 L113.0,827.7 L114.0,827.7 L115.0,827.8 L116.0,828.0 L117.0,828.6 L118.0,828.5 L119.0,828.1 L120.0,827.8 L121.0,827.7 L122.0,827.3 L123.0,826.9 L124.0,826.6 L125.0,826.8 L126.0,826.9 L127.0,826.2 L128.0,825.6 L129.0,824.9 L130.0,824.7 L131.0,824.6 L132.0,825.6 L133.0,825.7 L134.0,825.2 L135.0,824.6 L136.0,824.8 L137.0,825.0 L138.0,824.7 L139.0,824.7 L140.0,824.4 L141.0,824.4 L142.0,824.5 L143.0,824.3 L144.0,823.8 L145.0,823.3 L146.0,823.3 L147.0,823.5 L148.0,823.8 L149.0,823.7 L150.0,823.4 L151.0,823.4 L152.0,823.2 L153.0,822.9 L154.0,822.3 L155.0,822.2 L156.0,822.0 L157.0,822.5 L158.0,822.7 L159.0,822.0 L160.0,821.0 L161.0,820.5 L162.0,821.0 L163.0,821.5 L164.0,821.7 L165.0,821.3 L166.0,820.9 L167.0,820.9 L168.0,821.2 L169.0,821.1 L170.0,820.4 L171.0,819.9 L172.0,820.2 L173.0,820.6 L174.0,820.6 L175.0,820.2 L176.0,819.3 L177.0,819.0 L178.0,819.3 L179.0,819.2 L180.0,818.5 L181.0,818.8 L182.0,819.2 L183.0,819.4 L184.0,819.3 L185.0,819.0 L186.0,818.3 L187.0,817.7 L188.0,817.5 L189.0,817.5 L190.0,817.5 L191.0,817.6 L192.0,817.5 L193.0,817.5 L194.0,817.6 L195.0,818.0 L196.0,818.3 L197.0,818.1 L198.0,817.5 L199.0,816.7 L200.0,816.8 L201.0,817.1 L202.0,816.9 L203.0,816.5 L204.0,815.9 L205.0,815.7 L206.0,815.3 L207.0,815.0 L208.0,815.0 L209.0,814.4 L210.0,813.7 L211.0,813.1 L212.0,812.8 L213.0,812.5 L214.0,811.7 L215.0,811.3 L216.0,810.4 L217.0,810.0 L218.0,809.5 L219.0,809.7 L220.0,809.3 L221.0,808.5 L222.0,806.9 L223.0,805.9 L224.0,804.3 L225.0,802.7 L226.0,800.2 L227.0,798.6 L228.0,797.2 L229.0,795.4 L230.0,792.8 L231.0,789.7 L232.0,787.0 L233.0,784.1 L234.0,781.0 L235.0,778.4 L236.0,775.1 L237.0,771.5 L238.0,767.7 L239.0,764.7 L240.0,760.8 L241.0,756.0 L242.0,751.0 L243.0,746.0 L244.0,741.4 L245.0,736.4 L246.0,731.3 L247.0,726.2 L248.0,722.2 L249.0,719.5 L250.0,717.4 L251.0,715.1 L252.0,712.8 L253.0,711.3 L254.0,712.0 L255.0,713.3 L256.0,714.7 L257.0,716.9 L258.0,720.1 L259.0,723.3 L260.0,726.7 L261.0,730.5 L262.0,734.7 L263.0,739.3 L264.0,743.2 L265.0,747.0 L266.0,750.8 L267.0,755.2 L268.0,758.8 L269.0,762.3 L270.0,765.7 L271.0,769.1 L272.0,773.2 L273.0,777.3 L274.0,780.7 L275.0,782.5 L276.0,784.7 L277.0,787.2 L278.0,790.1 L279.0,792.6 L280.0,795.1 L281.0,796.3 L282.0,797.1 L283.0,798.0 L284.0,799.4 L285.0,800.8 L286.0,802.3 L287.0,803.8 L288.0,804.8 L289.0,805.1 L290.0,805.8 L291.0,806.9 L292.0,807.1 L293.0,807.2 L294.0,807.5 L295.0,808.2 L296.0,808.4 L297.0,809.0 L298.0,810.1 L299.0,810.7 L300.0,810.7 L301.0,810.2 L302.0,810.7 L303.0,811.2 L304.0,811.7 L305.0,812.2 L306.0,812.9 L307.0,813.1 L308.0,813.2 L309.0,813.8 L310.0,814.3 L311.0,814.6 L312.0,814.8 L313.0,814.9 L314.0,815.0 L315.0,815.0 L316.0,815.4 L317.0,815.7 L318.0,815.3 L319.0,814.9 L320.0,815.2 L321.0,815.8 L322.0,815.7 L323.0,815.7 L324.0,815.7 L325.0,815.7 L326.0,815.7 L327.0,816.4 L328.0,816.1 L329.0,815.5 L330.0,815.7 L331.0,816.1 L332.0,816.2 L333.0,816.6 L334.0,817.0 L335.0,816.2 L336.0,816.1 L337.0,817.0 L338.0,817.6 L339.0,817.6 L340.0,817.6 L341.0,817.6 L342.0,817.1 L343.0,816.9 L344.0,816.7 L345.0,817.1 L346.0,817.6 L347.0,817.8 L348.0,817.5 L349.0,817.0 L350.0,817.2 L351.0,817.8 L352.0,817.7 L353.0,817.5 L354.0,817.9 L355.0,818.3 L356.0,817.8 L357.0,817.1 L358.0,817.0 L359.0,817.6 L360.0,817.5 L361.0,816.9 L362.0,816.6 L363.0,817.3 L364.0,817.2 L365.0,817.8 L366.0,817.9 L367.0,818.1 L368.0,818.0 L369.0,818.3 L370.0,818.2 L371.0,817.6 L372.0,817.4 L373.0,817.0 L374.0,816.9 L375.0,816.9 L376.0,816.9 L377.0,817.1 L378.0,817.3 L379.0,817.1 L380.0,816.8 L381.0,816.6 L382.0,817.1 L383.0,816.8 L384.0,816.7 L385.0,816.7 L386.0,817.4 L387.0,817.2 L388.0,816.6 L389.0,816.0 L390.0,816.6 L391.0,816.7 L392.0,816.7 L393.0,816.7 L394.0,816.9 L395.0,816.5 L396.0,815.8 L397.0,815.4 L398.0,815.4 L399.0,815.2 L400.0,815.1 L401.0,815.1 L402.0,815.1 L403.0,814.6 L404.0,814.3 L405.0,814.4 L406.0,814.0 L407.0,813.2 L408.0,813.0 L409.0,813.3 L410.0,812.9 L411.0,812.2 L412.0,812.5 L413.0,812.6 L414.0,811.8 L415.0,811.0 L416.0,811.4 L417.0,811.4 L418.0,811.2 L419.0,810.9 L420.0,811.0 L421.0,810.5 L422.0,810.2 L423.0,810.0 L424.0,810.1 L425.0,810.1 L426.0,810.0 L427.0,809.4 L428.0,809.4 L429.0,809.7 L430.0,809.8 L431.0,809.6 L432.0,810.2 L433.0,811.0 L434.0,810.6 L435.0,810.4 L436.0,810.6 L437.0,811.3 L438.0,811.1 L439.0,811.4 L440.0,812.0 L441.0,812.9 L442.0,812.9 L443.0,812.8 L444.0,813.0 L445.0,813.3 L446.0,813.3 L447.0,813.1 L448.0,813.3 L449.0,813.9 L450.0,814.0 L451.0,813.7 L452.0,813.2 L453.0,813.2 L454.0,813.6 L455.0,814.1 L456.0,813.6 L457.0,813.1 L458.0,812.7 L459.0,813.5 L460.0,814.1 L461.0,814.5 L462.0,814.3 L463.0,813.9 L464.0,813.7 L465.0,813.4 L466.0,813.2 L467.0,812.7 L468.0,812.6 L469.0,812.6 L470.0,811.8 L471.0,810.8 L472.0,810.3 L473.0,810.5 L474.0,810.0 L475.0,809.3 L476.0,808.9 L477.0,809.7 L478.0,809.9 L479.0,809.7 L480.0,809.3 L481.0,809.7 L482.0,810.0 L483.0,810.2 L484.0,810.3 L485.0,810.5 L486.0,810.8 L487.0,811.1 L488.0,811.3 L489.0,811.0 L490.0,810.9 L491.0,811.0 L492.0,811.3 L493.0,810.9 L494.0,810.6 L495.0,809.5 L496.0,808.4 L497.0,807.2 L498.0,806.4 L499.0,805.4 L500.0,804.3 L501.0,803.4 L502.0,803.2 L503.0,802.8 L504.0,802.5 L505.0,801.3 L506.0,800.8 L507.0,800.1 L508.0,800.3 L509.0,800.8 L510.0,801.9 L511.0,802.5 L512.0,802.9 L513.0,803.4 L514.0,804.3 L515.0,805.7 L516.0,806.6 L517.0,807.1 L518.0,807.5 L519.0,808.9 L520.0,809.5 L521.0,810.4 L522.0,810.6 L523.0,811.0 L524.0,811.7 L525.0,812.7 L526.0,812.8 L527.0,811.9 L528.0,811.4 L529.0,812.0 L530.0,812.6 L531.0,812.7 L532.0,812.6 L533.0,813.2 L534.0,813.3 L535.0,813.0 L536.0,812.5 L537.0,813.1 L538.0,813.4 L539.0,813.4 L540.0,812.6 L541.0,812.7 L542.0,813.1 L543.0,813.5 L544.0,813.3 L545.0,813.5 L546.0,813.1 L547.0,812.8 L548.0,812.9 L549.0,813.9 L550.0,814.4 L551.0,814.2 L552.0,813.5 L553.0,813.2 L554.0,813.2 L555.0,813.2 L556.0,813.4 L557.0,813.6 L558.0,814.4 L559.0,814.5 L560.0,814.6 L561.0,814.1 L562.0,814.3 L563.0,814.8 L564.0,814.9 L565.0,814.1 L566.0,813.8 L567.0,814.1 L568.0,814.3 L569.0,814.2 L570.0,814.3 L571.0,814.7 L572.0,814.8 L573.0,814.6 L574.0,813.9 L575.0,813.3 L576.0,813.1 L577.0,813.8 L578.0,814.1 L579.0,814.2 L580.0,814.4 L581.0,815.0 L582.0,815.4 L583.0,815.4 L584.0,815.6 L585.0,815.1 L586.0,814.5 L587.0,814.6 L588.0,815.1 L589.0,815.2 L590.0,814.5 L591.0,814.8 L592.0,815.1 L593.0,815.3 L594.0,814.7 L595.0,814.4 L596.0,814.2 L597.0,814.3 L598.0,814.4 L599.0,814.4 L600.0,814.0 L601.0,814.1 L602.0,814.1 L603.0,814.5 L604.0,814.8 L605.0,814.7 L606.0,814.4 L607.0,814.0 L608.0,814.5 L609.0,814.0 L610.0,814.2 L611.0,813.6 L612.0,813.8 L613.0,813.7 L614.0,814.3 L615.0,814.4 L616.0,814.0 L617.0,813.4 L618.0,813.1 L619.0,813.3 L620.0,813.6 L621.0,814.3 L622.0,814.2 L623.0,813.5 L624.0,812.9 L625.0,813.5 L626.0,813.8 L627.0,813.2 L628.0,812.1 L629.0,811.8 L630.0,812.5 L631.0,812.9 L632.0,812.9 L633.0,812.6 L634.0,813.0 L635.0,813.2 L636.0,812.8 L637.0,812.5 L638.0,812.8 L639.0,812.6 L640.0,811.9 L641.0,812.2 L642.0,813.1 L643.0,813.4 L644.0,812.4 L645.0,811.9 L646.0,811.7 L647.0,812.5 L648.0,812.9 L649.0,812.4 L650.0,812.3 L651.0,812.9 L652.0,813.6 L653.0,812.8 L654.0,812.0 L655.0,811.7 L656.0,812.0 L657.0,812.7 L658.0,812.5 L659.0,812.0 L660.0,811.5 L661.0,811.8 L662.0,811.7 L663.0,811.3 L664.0,811.4 L665.0,811.5 L666.0,811.9 L667.0,812.2 L668.0,812.2 L669.0,812.0 L670.0,811.8 L671.0,811.8 L672.0,811.8 L673.0,811.3 L674.0,810.9 L675.0,811.1 L676.0,811.7 L677.0,812.1 L678.0,811.6 L679.0,811.2 L680.0,811.0 L681.0,811.4 L682.0,811.5 L683.0,811.8 L684.0,811.9 L685.0,811.7 L686.0,811.4 L687.0,811.7 L688.0,811.8 L689.0,812.1 L690.0,812.3 L691.0,812.1 L692.0,811.3 L693.0,811.4 L694.0,811.5 L695.0,811.7 L696.0,811.4 L697.0,812.0 L698.0,812.3 L699.0,811.9 L700.0,811.2 L701.0,810.8 L702.0,811.0 L703.0,811.3 L704.0,811.4 L705.0,811.5 L706.0,811.4 L707.0,812.0 L708.0,811.7 L709.0,811.8 L710.0,811.6 L711.0,812.1 L712.0,812.1 L713.0,812.3 L714.0,812.5 L715.0,812.9 L716.0,812.7 L717.0,812.5 L718.0,812.3 L719.0,812.4 L720.0,812.7 L721.0,812.8" stroke="#008000" stroke-width="3.0"/>
</g>
<path d="M48.0,889.0 V5.4 H721.7 V889.0" fill="none" stroke="#000" stroke-width="2"/>
<path d="M47.0,888.4 H722.7" fill="none" stroke="#000" stroke-width="2"/>
<path d="M80.6,888.0 v-12 M162.8,888.0 v-6 M244.9,888.0 v-12 M327.1,888.0 v-6 M409.3,888.0 v-12 M491.4,888.0 v-6 M573.6,888.0 v-12 M655.8,888.0 v-6" stroke="#000" stroke-width="1.8" fill="none"/>
<circle cx="48.4" cy="164.2" r="2.3" fill="#000"/>
<text transform="translate(75.5,930.8) scale(1,1.07)" font-size="46" text-anchor="middle" font-family="'Liberation Serif', serif">100</text>
<text transform="translate(239.8,930.8) scale(1,1.07)" font-size="46" text-anchor="middle" font-family="'Liberation Serif', serif">150</text>
<text transform="translate(404.2,930.8) scale(1,1.07)" font-size="46" text-anchor="middle" font-family="'Liberation Serif', serif">200</text>
<text transform="translate(568.5,930.8) scale(1,1.07)" font-size="46" text-anchor="middle" font-family="'Liberation Serif', serif">250</text>
<text x="188.5" y="979" font-size="49.7" font-family="'Liberation Serif', serif">Raman Shift</text>
<text x="450.5" y="981" font-size="72" font-family="'Liberation Serif', serif">(</text>
<text x="474.3" y="979" font-size="51" font-family="'Liberation Serif', serif">cm</text>
<text x="535.2" y="951.1" font-size="27" font-family="'Liberation Serif', serif">-1</text>
<text x="558.3" y="980.5" font-size="72" font-family="'Liberation Serif', serif">)</text>
<text transform="translate(38,772.5) rotate(-90) scale(1.067,1)" font-size="51" font-family="'Liberation Serif', serif">Normalized Raman Intensity</text>
<text x="664.6" y="51.5" font-size="55" font-weight="bold" font-family="'Liberation Serif', serif">a)</text>
<text x="154.1" y="91" font-size="48.8" font-style="italic" font-family="'Liberation Serif', serif">A</text>
<text x="183.6" y="102.9" font-size="32" font-family="'Liberation Serif', serif">1</text>
<text x="313" y="174.6" font-size="48.8" font-style="italic" font-family="'Liberation Serif', serif">E</text>
<text x="343.6" y="186.5" font-size="32" font-family="'Liberation Serif', serif">g</text>
<text x="474.3" y="139" font-size="48.8" font-style="italic" font-family="'Liberation Serif', serif">A</text>
<text x="502.9" y="150" font-size="32" font-family="'Liberation Serif', serif">1</text>
<text x="570.2" y="190.8" font-size="47.9" fill="#a0157f" font-family="'Liberation Serif', serif">γ-InSe</text>
<text transform="translate(543.5,377.2) scale(1.3,1)" font-size="48.2" fill="#2f5597" font-family="'Liberation Serif', serif">α</text>
<text x="574" y="377.2" font-size="48.2" fill="#2f5597" font-family="'Liberation Serif', serif">-In<tspan font-size="32.4" dy="10.9">2</tspan><tspan dy="-10.9">Se</tspan><tspan font-size="32.4" dy="10.9">3</tspan></text>
<text transform="translate(537,586.4) scale(1.2,1)" font-size="48.7" fill="#000" font-family="'Liberation Serif', serif">β</text>
<text x="560.9" y="586.4" font-size="48.7" fill="#000" font-family="'Liberation Serif', serif">-In<tspan font-size="32.4" dy="10.9">2</tspan><tspan dy="-10.9">Se</tspan><tspan font-size="32.4" dy="10.9">3</tspan></text>
<text transform="translate(534.8,782.9) scale(1.065,1)" font-size="48.6" fill="#2a8a3c" font-family="'Liberation Serif', serif">γ</text>
<text x="553.9" y="782.9" font-size="48.6" fill="#2a8a3c" font-family="'Liberation Serif', serif">-In<tspan font-size="32.4" dy="10.9">2</tspan><tspan dy="-10.9">Se</tspan><tspan font-size="32.4" dy="10.9">3</tspan></text>
</svg>
</body></html>
